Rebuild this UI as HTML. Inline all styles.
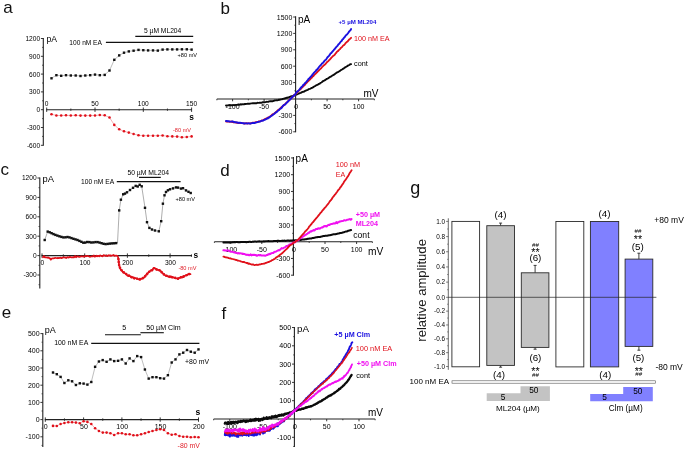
<!DOCTYPE html>
<html><head><meta charset="utf-8"><title>figure</title>
<style>html,body{margin:0;padding:0;background:#fff}svg{display:block}svg text{font-family:"Liberation Sans",Arial,sans-serif}</style>
</head><body>
<svg width="685" height="449" viewBox="0 0 685 449">
<rect width="685" height="449" fill="#fff"/>
<text x="3.2" y="13.4" font-size="17" text-anchor="start" fill="#111">a</text>
<line x1="43.30" y1="38.00" x2="43.30" y2="145.80" stroke="#222" stroke-width="1.1"/>
<line x1="40.90" y1="38.50" x2="43.30" y2="38.50" stroke="#222" stroke-width="0.9"/>
<text x="40.1" y="40.9" font-size="6.6" text-anchor="end" fill="#000">1200</text>
<line x1="40.90" y1="56.30" x2="43.30" y2="56.30" stroke="#222" stroke-width="0.9"/>
<text x="40.1" y="58.7" font-size="6.6" text-anchor="end" fill="#000">900</text>
<line x1="40.90" y1="74.10" x2="43.30" y2="74.10" stroke="#222" stroke-width="0.9"/>
<text x="40.1" y="76.5" font-size="6.6" text-anchor="end" fill="#000">600</text>
<line x1="40.90" y1="91.90" x2="43.30" y2="91.90" stroke="#222" stroke-width="0.9"/>
<text x="40.1" y="94.3" font-size="6.6" text-anchor="end" fill="#000">300</text>
<line x1="40.90" y1="109.70" x2="43.30" y2="109.70" stroke="#222" stroke-width="0.9"/>
<text x="40.1" y="112.1" font-size="6.6" text-anchor="end" fill="#000">0</text>
<line x1="40.90" y1="127.50" x2="43.30" y2="127.50" stroke="#222" stroke-width="0.9"/>
<text x="40.1" y="129.9" font-size="6.6" text-anchor="end" fill="#000">-300</text>
<line x1="40.90" y1="145.30" x2="43.30" y2="145.30" stroke="#222" stroke-width="0.9"/>
<text x="40.1" y="147.7" font-size="6.6" text-anchor="end" fill="#000">-600</text>
<line x1="42.00" y1="47.40" x2="43.30" y2="47.40" stroke="#222" stroke-width="0.7"/>
<line x1="42.00" y1="65.20" x2="43.30" y2="65.20" stroke="#222" stroke-width="0.7"/>
<line x1="42.00" y1="83.00" x2="43.30" y2="83.00" stroke="#222" stroke-width="0.7"/>
<line x1="42.00" y1="100.80" x2="43.30" y2="100.80" stroke="#222" stroke-width="0.7"/>
<line x1="42.00" y1="118.60" x2="43.30" y2="118.60" stroke="#222" stroke-width="0.7"/>
<line x1="42.00" y1="136.40" x2="43.30" y2="136.40" stroke="#222" stroke-width="0.7"/>
<text x="46.6" y="42.0" font-size="8.6" text-anchor="start" fill="#000">pA</text>
<line x1="46.20" y1="109.70" x2="192.00" y2="109.70" stroke="#222" stroke-width="1.1"/>
<line x1="46.70" y1="107.50" x2="46.70" y2="111.90" stroke="#222" stroke-width="0.9"/>
<text x="46.7" y="105.7" font-size="6.6" text-anchor="middle" fill="#000">0</text>
<line x1="95.00" y1="107.50" x2="95.00" y2="111.90" stroke="#222" stroke-width="0.9"/>
<text x="95.0" y="105.7" font-size="6.6" text-anchor="middle" fill="#000">50</text>
<line x1="143.30" y1="107.50" x2="143.30" y2="111.90" stroke="#222" stroke-width="0.9"/>
<text x="143.3" y="105.7" font-size="6.6" text-anchor="middle" fill="#000">100</text>
<line x1="191.60" y1="107.50" x2="191.60" y2="111.90" stroke="#222" stroke-width="0.9"/>
<text x="191.6" y="105.7" font-size="6.6" text-anchor="middle" fill="#000">150</text>
<line x1="70.85" y1="108.50" x2="70.85" y2="110.90" stroke="#222" stroke-width="0.8"/>
<line x1="119.15" y1="108.50" x2="119.15" y2="110.90" stroke="#222" stroke-width="0.8"/>
<line x1="167.45" y1="108.50" x2="167.45" y2="110.90" stroke="#222" stroke-width="0.8"/>
<text x="191.5" y="119.6" font-size="8.4" text-anchor="middle" fill="#000" font-weight="bold">s</text>
<text x="69.3" y="44.6" font-size="6.6" text-anchor="start" fill="#000">100 nM EA</text>
<line x1="105.90" y1="42.30" x2="193.20" y2="42.30" stroke="#111" stroke-width="1.2"/>
<line x1="135.30" y1="36.30" x2="193.20" y2="36.30" stroke="#111" stroke-width="1.2"/>
<text x="144.0" y="33.3" font-size="6.7" text-anchor="start" fill="#000">5 µM ML204</text>
<text x="177.6" y="57.2" font-size="5.6" text-anchor="start" fill="#000">+80 mV</text>
<text x="173.0" y="131.8" font-size="5.6" text-anchor="start" fill="#e0202a">-80 mV</text>
<polyline points="51.5,78.3 56.4,75.2 61.2,75.8 66.0,75.2 70.8,75.5 75.7,75.5 80.5,76.0 85.3,75.5 90.2,75.2 95.0,74.6 99.8,75.2 104.7,74.9 109.5,70.5 114.3,59.8 119.2,55.4 124.0,52.7 128.8,51.4 133.6,50.7 138.5,49.9 143.3,50.2 148.1,50.4 153.0,50.4 157.8,50.6 162.6,49.6 167.4,49.4 172.3,49.4 177.1,49.4 181.9,49.3 186.8,49.3 191.6,49.6" fill="none" stroke="#444" stroke-width="0.35" stroke-linejoin="round" stroke-linecap="round"/>
<polyline points="51.5,114.2 56.4,115.5 61.2,115.5 66.0,115.3 70.8,115.5 75.7,115.3 80.5,115.6 85.3,115.6 90.2,115.6 95.0,115.5 99.8,115.0 104.7,115.3 109.5,117.5 114.3,124.9 119.2,129.3 124.0,131.3 128.8,132.6 133.6,134.0 138.5,135.3 143.3,135.7 148.1,135.7 153.0,135.7 157.8,135.7 162.6,135.5 167.4,136.2 172.3,136.4 177.1,136.6 181.9,137.2 186.8,137.0 191.6,136.4" fill="none" stroke="#e0202a" stroke-width="0.35" stroke-linejoin="round" stroke-linecap="round"/>
<rect x="50.3" y="77.1" width="2.4" height="2.4" fill="#111"/>
<rect x="55.2" y="74.0" width="2.4" height="2.4" fill="#111"/>
<rect x="60.0" y="74.6" width="2.4" height="2.4" fill="#111"/>
<rect x="64.8" y="74.0" width="2.4" height="2.4" fill="#111"/>
<rect x="69.6" y="74.3" width="2.4" height="2.4" fill="#111"/>
<rect x="74.5" y="74.3" width="2.4" height="2.4" fill="#111"/>
<rect x="79.3" y="74.8" width="2.4" height="2.4" fill="#111"/>
<rect x="84.1" y="74.3" width="2.4" height="2.4" fill="#111"/>
<rect x="89.0" y="74.0" width="2.4" height="2.4" fill="#111"/>
<rect x="93.8" y="73.4" width="2.4" height="2.4" fill="#111"/>
<rect x="98.6" y="74.0" width="2.4" height="2.4" fill="#111"/>
<rect x="103.5" y="73.7" width="2.4" height="2.4" fill="#111"/>
<rect x="108.3" y="69.3" width="2.4" height="2.4" fill="#111"/>
<rect x="113.1" y="58.6" width="2.4" height="2.4" fill="#111"/>
<rect x="118.0" y="54.2" width="2.4" height="2.4" fill="#111"/>
<rect x="122.8" y="51.5" width="2.4" height="2.4" fill="#111"/>
<rect x="127.6" y="50.2" width="2.4" height="2.4" fill="#111"/>
<rect x="132.4" y="49.5" width="2.4" height="2.4" fill="#111"/>
<rect x="137.3" y="48.7" width="2.4" height="2.4" fill="#111"/>
<rect x="142.1" y="49.0" width="2.4" height="2.4" fill="#111"/>
<rect x="146.9" y="49.2" width="2.4" height="2.4" fill="#111"/>
<rect x="151.8" y="49.2" width="2.4" height="2.4" fill="#111"/>
<rect x="156.6" y="49.4" width="2.4" height="2.4" fill="#111"/>
<rect x="161.4" y="48.4" width="2.4" height="2.4" fill="#111"/>
<rect x="166.2" y="48.2" width="2.4" height="2.4" fill="#111"/>
<rect x="171.1" y="48.2" width="2.4" height="2.4" fill="#111"/>
<rect x="175.9" y="48.2" width="2.4" height="2.4" fill="#111"/>
<rect x="180.7" y="48.1" width="2.4" height="2.4" fill="#111"/>
<rect x="185.6" y="48.1" width="2.4" height="2.4" fill="#111"/>
<rect x="190.4" y="48.4" width="2.4" height="2.4" fill="#111"/>
<circle cx="51.5" cy="114.2" r="1.3" fill="#e0101a"/>
<circle cx="56.4" cy="115.5" r="1.3" fill="#e0101a"/>
<circle cx="61.2" cy="115.5" r="1.3" fill="#e0101a"/>
<circle cx="66.0" cy="115.3" r="1.3" fill="#e0101a"/>
<circle cx="70.8" cy="115.5" r="1.3" fill="#e0101a"/>
<circle cx="75.7" cy="115.3" r="1.3" fill="#e0101a"/>
<circle cx="80.5" cy="115.6" r="1.3" fill="#e0101a"/>
<circle cx="85.3" cy="115.6" r="1.3" fill="#e0101a"/>
<circle cx="90.2" cy="115.6" r="1.3" fill="#e0101a"/>
<circle cx="95.0" cy="115.5" r="1.3" fill="#e0101a"/>
<circle cx="99.8" cy="115.0" r="1.3" fill="#e0101a"/>
<circle cx="104.7" cy="115.3" r="1.3" fill="#e0101a"/>
<circle cx="109.5" cy="117.5" r="1.3" fill="#e0101a"/>
<circle cx="114.3" cy="124.9" r="1.3" fill="#e0101a"/>
<circle cx="119.2" cy="129.3" r="1.3" fill="#e0101a"/>
<circle cx="124.0" cy="131.3" r="1.3" fill="#e0101a"/>
<circle cx="128.8" cy="132.6" r="1.3" fill="#e0101a"/>
<circle cx="133.6" cy="134.0" r="1.3" fill="#e0101a"/>
<circle cx="138.5" cy="135.3" r="1.3" fill="#e0101a"/>
<circle cx="143.3" cy="135.7" r="1.3" fill="#e0101a"/>
<circle cx="148.1" cy="135.7" r="1.3" fill="#e0101a"/>
<circle cx="153.0" cy="135.7" r="1.3" fill="#e0101a"/>
<circle cx="157.8" cy="135.7" r="1.3" fill="#e0101a"/>
<circle cx="162.6" cy="135.5" r="1.3" fill="#e0101a"/>
<circle cx="167.4" cy="136.2" r="1.3" fill="#e0101a"/>
<circle cx="172.3" cy="136.4" r="1.3" fill="#e0101a"/>
<circle cx="177.1" cy="136.6" r="1.3" fill="#e0101a"/>
<circle cx="181.9" cy="137.2" r="1.3" fill="#e0101a"/>
<circle cx="186.8" cy="137.0" r="1.3" fill="#e0101a"/>
<circle cx="191.6" cy="136.4" r="1.3" fill="#e0101a"/>
<text x="0.6" y="174.9" font-size="17" text-anchor="start" fill="#111">c</text>
<line x1="39.80" y1="177.50" x2="39.80" y2="288.50" stroke="#222" stroke-width="1.1"/>
<line x1="37.40" y1="178.00" x2="39.80" y2="178.00" stroke="#222" stroke-width="0.9"/>
<text x="36.6" y="180.4" font-size="6.6" text-anchor="end" fill="#000">1200</text>
<line x1="37.40" y1="197.40" x2="39.80" y2="197.40" stroke="#222" stroke-width="0.9"/>
<text x="36.6" y="199.8" font-size="6.6" text-anchor="end" fill="#000">900</text>
<line x1="37.40" y1="216.80" x2="39.80" y2="216.80" stroke="#222" stroke-width="0.9"/>
<text x="36.6" y="219.2" font-size="6.6" text-anchor="end" fill="#000">600</text>
<line x1="37.40" y1="236.20" x2="39.80" y2="236.20" stroke="#222" stroke-width="0.9"/>
<text x="36.6" y="238.6" font-size="6.6" text-anchor="end" fill="#000">300</text>
<line x1="37.40" y1="255.60" x2="39.80" y2="255.60" stroke="#222" stroke-width="0.9"/>
<text x="36.6" y="258.0" font-size="6.6" text-anchor="end" fill="#000">0</text>
<line x1="37.40" y1="275.00" x2="39.80" y2="275.00" stroke="#222" stroke-width="0.9"/>
<text x="36.6" y="277.4" font-size="6.6" text-anchor="end" fill="#000">-300</text>
<line x1="38.50" y1="187.70" x2="39.80" y2="187.70" stroke="#222" stroke-width="0.7"/>
<line x1="38.50" y1="207.10" x2="39.80" y2="207.10" stroke="#222" stroke-width="0.7"/>
<line x1="38.50" y1="226.50" x2="39.80" y2="226.50" stroke="#222" stroke-width="0.7"/>
<line x1="38.50" y1="245.90" x2="39.80" y2="245.90" stroke="#222" stroke-width="0.7"/>
<line x1="38.50" y1="265.30" x2="39.80" y2="265.30" stroke="#222" stroke-width="0.7"/>
<line x1="38.50" y1="284.70" x2="39.80" y2="284.70" stroke="#222" stroke-width="0.7"/>
<text x="42.6" y="181.6" font-size="9.4" text-anchor="start" fill="#000">pA</text>
<line x1="41.50" y1="255.60" x2="192.00" y2="255.60" stroke="#222" stroke-width="1.1"/>
<line x1="42.00" y1="253.40" x2="42.00" y2="257.80" stroke="#222" stroke-width="0.9"/>
<text x="42.3" y="264.6" font-size="6.6" text-anchor="middle" fill="#000">0</text>
<line x1="84.70" y1="253.40" x2="84.70" y2="257.80" stroke="#222" stroke-width="0.9"/>
<text x="85.0" y="264.6" font-size="6.6" text-anchor="middle" fill="#000">100</text>
<line x1="127.40" y1="253.40" x2="127.40" y2="257.80" stroke="#222" stroke-width="0.9"/>
<text x="127.7" y="264.6" font-size="6.6" text-anchor="middle" fill="#000">200</text>
<line x1="170.10" y1="253.40" x2="170.10" y2="257.80" stroke="#222" stroke-width="0.9"/>
<text x="170.4" y="264.6" font-size="6.6" text-anchor="middle" fill="#000">300</text>
<line x1="63.35" y1="254.30" x2="63.35" y2="256.90" stroke="#222" stroke-width="0.8"/>
<line x1="106.05" y1="254.30" x2="106.05" y2="256.90" stroke="#222" stroke-width="0.8"/>
<line x1="148.75" y1="254.30" x2="148.75" y2="256.90" stroke="#222" stroke-width="0.8"/>
<line x1="191.45" y1="254.30" x2="191.45" y2="256.90" stroke="#222" stroke-width="0.8"/>
<text x="195.8" y="257.8" font-size="8.4" text-anchor="middle" fill="#000" font-weight="bold">s</text>
<text x="81.1" y="183.7" font-size="6.7" text-anchor="start" fill="#000">100 nM EA</text>
<line x1="116.80" y1="181.60" x2="180.60" y2="181.60" stroke="#111" stroke-width="1.2"/>
<line x1="139.00" y1="177.40" x2="160.80" y2="177.40" stroke="#111" stroke-width="1.2"/>
<text x="127.4" y="174.9" font-size="6.8" text-anchor="start" fill="#000">50 µM ML204</text>
<text x="175.5" y="201.3" font-size="5.6" text-anchor="start" fill="#000">+80 mV</text>
<text x="178.4" y="270.1" font-size="5.6" text-anchor="start" fill="#e0202a">-80 mV</text>
<polyline points="44.7,240.0 47.7,231.6 50.4,232.6 55.0,234.8 60.0,236.5 64.0,237.6 68.0,236.9 72.0,238.3 78.0,240.2 84.0,243.0 88.0,241.8 92.0,242.6 97.0,241.9 102.0,243.3 105.0,244.2 110.0,243.6 117.5,243.0 119.2,210.4 120.9,199.7 123.2,194.3 125.0,193.6 127.0,192.3 130.0,190.0 133.0,187.8 135.7,185.9 137.7,186.5 139.7,184.8 141.7,186.3 145.0,207.8 147.0,222.2 149.4,227.9 152.0,229.5 155.0,230.5 158.8,231.3 161.2,221.2 162.9,203.7 164.5,195.3 166.0,192.0 167.9,190.3 170.0,189.3 173.0,188.4 176.0,187.4 178.0,187.6 181.0,188.6 183.0,188.2 186.0,190.4 188.5,191.8 190.7,193.0" fill="none" stroke="#333" stroke-width="0.4" stroke-linejoin="round" stroke-linecap="round"/>
<rect x="43.5" y="238.8" width="2.4" height="2.4" fill="#111"/>
<rect x="46.5" y="230.4" width="2.4" height="2.4" fill="#111"/>
<rect x="48.5" y="231.1" width="2.4" height="2.4" fill="#111"/>
<rect x="50.4" y="232.0" width="2.4" height="2.4" fill="#111"/>
<rect x="52.3" y="232.9" width="2.4" height="2.4" fill="#111"/>
<rect x="54.2" y="233.7" width="2.4" height="2.4" fill="#111"/>
<rect x="56.2" y="234.4" width="2.4" height="2.4" fill="#111"/>
<rect x="58.2" y="235.1" width="2.4" height="2.4" fill="#111"/>
<rect x="60.2" y="235.7" width="2.4" height="2.4" fill="#111"/>
<rect x="62.2" y="236.2" width="2.4" height="2.4" fill="#111"/>
<rect x="64.3" y="236.1" width="2.4" height="2.4" fill="#111"/>
<rect x="66.3" y="235.8" width="2.4" height="2.4" fill="#111"/>
<rect x="68.3" y="236.2" width="2.4" height="2.4" fill="#111"/>
<rect x="70.3" y="236.9" width="2.4" height="2.4" fill="#111"/>
<rect x="72.3" y="237.6" width="2.4" height="2.4" fill="#111"/>
<rect x="74.3" y="238.2" width="2.4" height="2.4" fill="#111"/>
<rect x="76.3" y="238.8" width="2.4" height="2.4" fill="#111"/>
<rect x="78.2" y="239.7" width="2.4" height="2.4" fill="#111"/>
<rect x="80.2" y="240.6" width="2.4" height="2.4" fill="#111"/>
<rect x="82.1" y="241.5" width="2.4" height="2.4" fill="#111"/>
<rect x="84.0" y="241.4" width="2.4" height="2.4" fill="#111"/>
<rect x="86.0" y="240.8" width="2.4" height="2.4" fill="#111"/>
<rect x="88.1" y="240.9" width="2.4" height="2.4" fill="#111"/>
<rect x="90.1" y="241.3" width="2.4" height="2.4" fill="#111"/>
<rect x="92.2" y="241.2" width="2.4" height="2.4" fill="#111"/>
<rect x="94.3" y="240.9" width="2.4" height="2.4" fill="#111"/>
<rect x="96.4" y="240.9" width="2.4" height="2.4" fill="#111"/>
<rect x="98.4" y="241.4" width="2.4" height="2.4" fill="#111"/>
<rect x="100.4" y="242.0" width="2.4" height="2.4" fill="#111"/>
<rect x="102.4" y="242.6" width="2.4" height="2.4" fill="#111"/>
<rect x="104.4" y="242.9" width="2.4" height="2.4" fill="#111"/>
<rect x="106.5" y="242.7" width="2.4" height="2.4" fill="#111"/>
<rect x="108.6" y="242.4" width="2.4" height="2.4" fill="#111"/>
<rect x="110.7" y="242.2" width="2.4" height="2.4" fill="#111"/>
<rect x="112.8" y="242.1" width="2.4" height="2.4" fill="#111"/>
<rect x="114.9" y="241.9" width="2.4" height="2.4" fill="#111"/>
<rect x="118.0" y="209.2" width="2.4" height="2.4" fill="#111"/>
<rect x="119.7" y="198.5" width="2.4" height="2.4" fill="#111"/>
<rect x="122.0" y="193.1" width="2.4" height="2.4" fill="#111"/>
<rect x="123.8" y="192.4" width="2.4" height="2.4" fill="#111"/>
<rect x="125.8" y="191.1" width="2.4" height="2.4" fill="#111"/>
<rect x="128.8" y="188.8" width="2.4" height="2.4" fill="#111"/>
<rect x="131.8" y="186.6" width="2.4" height="2.4" fill="#111"/>
<rect x="134.5" y="184.7" width="2.4" height="2.4" fill="#111"/>
<rect x="136.5" y="185.3" width="2.4" height="2.4" fill="#111"/>
<rect x="138.5" y="183.6" width="2.4" height="2.4" fill="#111"/>
<rect x="140.5" y="185.1" width="2.4" height="2.4" fill="#111"/>
<rect x="143.8" y="206.6" width="2.4" height="2.4" fill="#111"/>
<rect x="145.8" y="221.0" width="2.4" height="2.4" fill="#111"/>
<rect x="148.2" y="226.7" width="2.4" height="2.4" fill="#111"/>
<rect x="150.8" y="228.3" width="2.4" height="2.4" fill="#111"/>
<rect x="153.8" y="229.3" width="2.4" height="2.4" fill="#111"/>
<rect x="157.6" y="230.1" width="2.4" height="2.4" fill="#111"/>
<rect x="160.0" y="220.0" width="2.4" height="2.4" fill="#111"/>
<rect x="161.7" y="202.5" width="2.4" height="2.4" fill="#111"/>
<rect x="163.3" y="194.1" width="2.4" height="2.4" fill="#111"/>
<rect x="164.8" y="190.8" width="2.4" height="2.4" fill="#111"/>
<rect x="166.7" y="189.1" width="2.4" height="2.4" fill="#111"/>
<rect x="168.8" y="188.1" width="2.4" height="2.4" fill="#111"/>
<rect x="171.8" y="187.2" width="2.4" height="2.4" fill="#111"/>
<rect x="174.8" y="186.2" width="2.4" height="2.4" fill="#111"/>
<rect x="176.8" y="186.4" width="2.4" height="2.4" fill="#111"/>
<rect x="179.8" y="187.4" width="2.4" height="2.4" fill="#111"/>
<rect x="181.8" y="187.0" width="2.4" height="2.4" fill="#111"/>
<rect x="184.8" y="189.2" width="2.4" height="2.4" fill="#111"/>
<rect x="187.3" y="190.6" width="2.4" height="2.4" fill="#111"/>
<rect x="189.5" y="191.8" width="2.4" height="2.4" fill="#111"/>
<polyline points="43.0,257.3 43.9,256.0 44.7,257.3 45.6,257.3 46.4,257.5 47.3,257.8 48.2,257.4 49.1,258.2 49.9,258.2 50.8,259.7 51.7,258.6 52.6,258.3 53.5,258.3 54.4,258.1 55.3,257.9 56.2,258.0 57.1,258.3 58.0,257.9 58.9,258.2 59.8,257.8 60.7,257.7 61.6,258.2 62.5,257.8 63.4,257.4 64.3,257.4 65.2,257.6 66.1,258.1 67.0,257.3 67.9,257.2 68.8,257.6 69.7,256.9 70.6,257.1 71.5,257.5 72.4,257.3 73.3,257.1 74.2,257.3 75.1,256.0 76.0,257.3 76.9,256.6 77.8,256.3 78.7,256.9 79.6,257.0 80.5,256.5 81.3,256.2 82.2,256.5 83.1,256.4 84.0,256.8 84.9,256.3 85.8,255.9 86.7,256.3 87.5,256.0 88.4,256.0 89.3,256.7 90.2,256.8 91.1,256.5 92.0,256.2 92.9,256.5 93.8,255.5 94.7,256.6 95.6,256.5 96.5,255.7 97.4,256.3 98.3,255.8 99.2,256.4 100.1,255.4 101.0,255.7 101.9,256.2 102.8,256.3 103.7,255.1 104.6,255.6 105.5,255.8 106.4,255.5 107.3,256.2 108.2,255.2 109.1,255.7 110.0,255.2 110.9,256.0 111.8,255.5 112.7,255.4 113.6,254.9 114.5,256.0 115.4,255.7 116.3,255.7 117.2,255.8 117.6,256.1 117.9,256.6 118.1,257.4 118.3,258.3 118.5,259.9 118.6,259.8 118.7,261.0 118.8,262.0 118.9,263.1 119.0,264.1 119.1,264.4 119.2,265.1 119.5,266.6 119.8,267.8 120.2,268.5 120.5,269.1 121.1,269.6 121.7,270.5 122.2,271.1 122.8,272.1 123.6,272.0 124.3,272.9 125.1,273.3 125.8,274.0 126.6,274.4 127.3,275.7 128.1,275.8 128.9,276.2 129.6,275.5 130.4,276.5 131.2,276.9 132.0,277.6 132.9,276.9 133.7,278.4 134.6,278.6 135.5,278.0 136.3,278.3 137.2,278.6 138.1,279.1 139.0,279.4 139.9,279.9 140.7,278.9 141.6,279.0 142.4,278.4 143.2,278.4 143.9,277.6 144.6,277.2 145.2,275.7 145.8,275.3 146.4,274.4 147.0,274.6 147.6,273.6 148.2,272.7 148.9,272.0 149.5,271.7 150.3,270.8 151.1,270.3 151.8,270.3 152.5,270.4 153.1,268.8 153.8,268.0 154.6,268.1 155.4,268.5 156.2,269.4 157.1,269.8 157.9,269.8 158.8,270.1 159.6,270.4 160.3,271.0 160.9,271.0 161.6,272.0 162.2,272.9 162.9,273.2 163.5,273.9 164.2,274.4 164.9,275.1 165.8,275.8 166.6,275.7 167.4,276.1 168.3,276.7 169.2,276.8 170.1,277.4 170.9,276.2 171.8,277.4 172.7,277.1 173.6,277.5 174.5,278.0 175.3,278.3 176.2,278.5 177.1,278.4 177.9,279.1 178.8,278.1 179.6,277.8 180.4,277.8 181.2,276.9 182.1,277.6 182.9,276.9 183.8,277.1 184.6,276.0 185.5,275.5 186.3,275.3 187.1,275.1 187.9,274.2 188.7,274.3 189.6,273.9 190.5,274.2" fill="none" stroke="#e0101a" stroke-width="1.7" stroke-linejoin="round" stroke-linecap="round"/>
<circle cx="118.4" cy="259.0" r="1.3" fill="#e0101a"/>
<circle cx="118.7" cy="262.0" r="1.3" fill="#e0101a"/>
<circle cx="119.1" cy="265.0" r="1.3" fill="#e0101a"/>
<circle cx="120.0" cy="267.8" r="1.3" fill="#e0101a"/>
<circle cx="121.6" cy="270.3" r="1.3" fill="#e0101a"/>
<circle cx="123.7" cy="272.4" r="1.3" fill="#e0101a"/>
<circle cx="126.2" cy="274.1" r="1.3" fill="#e0101a"/>
<circle cx="128.7" cy="275.6" r="1.3" fill="#e0101a"/>
<circle cx="131.3" cy="277.1" r="1.3" fill="#e0101a"/>
<circle cx="134.2" cy="278.1" r="1.3" fill="#e0101a"/>
<circle cx="137.1" cy="278.8" r="1.3" fill="#e0101a"/>
<circle cx="140.0" cy="279.1" r="1.3" fill="#e0101a"/>
<circle cx="142.8" cy="278.1" r="1.3" fill="#e0101a"/>
<circle cx="145.1" cy="276.2" r="1.3" fill="#e0101a"/>
<circle cx="147.1" cy="273.9" r="1.3" fill="#e0101a"/>
<circle cx="149.2" cy="271.8" r="1.3" fill="#e0101a"/>
<circle cx="151.7" cy="270.2" r="1.3" fill="#e0101a"/>
<circle cx="153.9" cy="268.2" r="1.3" fill="#e0101a"/>
<circle cx="156.6" cy="269.4" r="1.3" fill="#e0101a"/>
<circle cx="159.5" cy="270.2" r="1.3" fill="#e0101a"/>
<circle cx="161.7" cy="272.3" r="1.3" fill="#e0101a"/>
<circle cx="163.9" cy="274.4" r="1.3" fill="#e0101a"/>
<circle cx="166.5" cy="275.8" r="1.3" fill="#e0101a"/>
<circle cx="169.3" cy="276.6" r="1.3" fill="#e0101a"/>
<circle cx="172.3" cy="277.2" r="1.3" fill="#e0101a"/>
<circle cx="175.2" cy="277.8" r="1.3" fill="#e0101a"/>
<circle cx="178.1" cy="278.6" r="1.3" fill="#e0101a"/>
<circle cx="180.8" cy="277.3" r="1.3" fill="#e0101a"/>
<circle cx="183.6" cy="276.3" r="1.3" fill="#e0101a"/>
<circle cx="186.4" cy="275.2" r="1.3" fill="#e0101a"/>
<circle cx="189.2" cy="274.1" r="1.3" fill="#e0101a"/>
<text x="1.8" y="318.1" font-size="17" text-anchor="start" fill="#111">e</text>
<line x1="42.80" y1="333.10" x2="42.80" y2="447.00" stroke="#222" stroke-width="1.1"/>
<line x1="40.40" y1="333.60" x2="42.80" y2="333.60" stroke="#222" stroke-width="0.9"/>
<text x="39.6" y="336.1" font-size="7" text-anchor="end" fill="#000">500</text>
<line x1="40.40" y1="350.80" x2="42.80" y2="350.80" stroke="#222" stroke-width="0.9"/>
<text x="39.6" y="353.3" font-size="7" text-anchor="end" fill="#000">400</text>
<line x1="40.40" y1="368.00" x2="42.80" y2="368.00" stroke="#222" stroke-width="0.9"/>
<text x="39.6" y="370.5" font-size="7" text-anchor="end" fill="#000">300</text>
<line x1="40.40" y1="385.20" x2="42.80" y2="385.20" stroke="#222" stroke-width="0.9"/>
<text x="39.6" y="387.7" font-size="7" text-anchor="end" fill="#000">200</text>
<line x1="40.40" y1="402.40" x2="42.80" y2="402.40" stroke="#222" stroke-width="0.9"/>
<text x="39.6" y="404.9" font-size="7" text-anchor="end" fill="#000">100</text>
<line x1="40.40" y1="419.60" x2="42.80" y2="419.60" stroke="#222" stroke-width="0.9"/>
<text x="39.6" y="422.1" font-size="7" text-anchor="end" fill="#000">0</text>
<line x1="40.40" y1="436.80" x2="42.80" y2="436.80" stroke="#222" stroke-width="0.9"/>
<text x="39.6" y="439.3" font-size="7" text-anchor="end" fill="#000">-100</text>
<line x1="41.50" y1="342.20" x2="42.80" y2="342.20" stroke="#222" stroke-width="0.7"/>
<line x1="41.50" y1="359.40" x2="42.80" y2="359.40" stroke="#222" stroke-width="0.7"/>
<line x1="41.50" y1="376.60" x2="42.80" y2="376.60" stroke="#222" stroke-width="0.7"/>
<line x1="41.50" y1="393.80" x2="42.80" y2="393.80" stroke="#222" stroke-width="0.7"/>
<line x1="41.50" y1="411.00" x2="42.80" y2="411.00" stroke="#222" stroke-width="0.7"/>
<line x1="41.50" y1="428.20" x2="42.80" y2="428.20" stroke="#222" stroke-width="0.7"/>
<line x1="41.50" y1="445.40" x2="42.80" y2="445.40" stroke="#222" stroke-width="0.7"/>
<text x="44.8" y="332.8" font-size="9" text-anchor="start" fill="#000">pA</text>
<line x1="44.80" y1="419.60" x2="199.00" y2="419.60" stroke="#222" stroke-width="1.1"/>
<line x1="45.30" y1="417.40" x2="45.30" y2="421.80" stroke="#222" stroke-width="0.9"/>
<text x="45.6" y="429.0" font-size="7" text-anchor="middle" fill="#000">0</text>
<line x1="83.60" y1="417.40" x2="83.60" y2="421.80" stroke="#222" stroke-width="0.9"/>
<text x="83.9" y="429.0" font-size="7" text-anchor="middle" fill="#000">50</text>
<line x1="121.90" y1="417.40" x2="121.90" y2="421.80" stroke="#222" stroke-width="0.9"/>
<text x="122.2" y="429.0" font-size="7" text-anchor="middle" fill="#000">100</text>
<line x1="160.20" y1="417.40" x2="160.20" y2="421.80" stroke="#222" stroke-width="0.9"/>
<text x="160.5" y="429.0" font-size="7" text-anchor="middle" fill="#000">150</text>
<line x1="198.50" y1="417.40" x2="198.50" y2="421.80" stroke="#222" stroke-width="0.9"/>
<text x="198.8" y="429.0" font-size="7" text-anchor="middle" fill="#000">200</text>
<line x1="64.45" y1="418.30" x2="64.45" y2="420.90" stroke="#222" stroke-width="0.8"/>
<line x1="102.75" y1="418.30" x2="102.75" y2="420.90" stroke="#222" stroke-width="0.8"/>
<line x1="141.05" y1="418.30" x2="141.05" y2="420.90" stroke="#222" stroke-width="0.8"/>
<line x1="179.35" y1="418.30" x2="179.35" y2="420.90" stroke="#222" stroke-width="0.8"/>
<text x="197.9" y="415.0" font-size="8.6" text-anchor="middle" fill="#000" font-weight="bold">s</text>
<text x="54.2" y="345.4" font-size="6.9" text-anchor="start" fill="#000">100 nM EA</text>
<line x1="91.20" y1="343.30" x2="199.40" y2="343.30" stroke="#111" stroke-width="1.2"/>
<line x1="105.00" y1="334.70" x2="140.80" y2="334.70" stroke="#111" stroke-width="1.1"/>
<line x1="140.40" y1="332.70" x2="163.80" y2="332.70" stroke="#111" stroke-width="1.1"/>
<text x="124.3" y="330.3" font-size="7.1" text-anchor="middle" fill="#000">5</text>
<text x="146.2" y="330.3" font-size="7.1" text-anchor="start" fill="#000">50 µM Clm</text>
<text x="185.1" y="363.9" font-size="6.9" text-anchor="start" fill="#000">+80 mV</text>
<text x="177.6" y="448.0" font-size="6.9" text-anchor="start" fill="#e0202a">-80 mV</text>
<polyline points="53.0,372.5 56.8,374.2 60.6,376.9 64.4,383.0 68.3,380.3 72.1,381.3 75.9,385.0 79.8,383.3 83.6,383.6 87.4,384.6 91.3,382.0 95.1,366.8 98.9,361.5 102.8,360.1 106.6,361.8 110.4,359.4 114.2,361.1 118.1,360.8 121.9,359.4 125.7,363.5 129.6,358.4 133.4,361.1 137.2,356.1 141.1,357.1 144.9,369.5 148.7,378.6 152.5,377.2 156.4,377.2 160.2,378.2 164.0,378.6 167.9,375.2 171.7,362.5 175.5,359.4 179.4,354.4 183.2,352.7 187.0,350.0 190.8,351.7 194.7,352.7 198.5,349.4" fill="none" stroke="#444" stroke-width="0.35" stroke-linejoin="round" stroke-linecap="round"/>
<polyline points="53.0,425.9 56.8,426.0 60.6,424.0 64.4,423.0 68.3,422.2 72.1,422.2 75.9,422.6 79.8,423.2 83.6,421.2 87.4,421.9 91.3,424.0 95.1,428.3 98.9,431.0 102.8,432.6 106.6,432.6 110.4,433.3 114.2,435.0 118.1,433.3 121.9,433.3 125.7,434.3 129.6,434.3 133.4,435.3 137.2,435.3 141.1,434.3 144.9,433.3 148.7,432.0 152.5,431.0 156.4,430.0 160.2,429.3 164.0,430.0 167.9,433.3 171.7,434.7 175.5,434.3 179.4,436.0 183.2,436.7 187.0,436.7 190.8,437.3 194.7,437.0 198.5,437.3" fill="none" stroke="#e0202a" stroke-width="0.35" stroke-linejoin="round" stroke-linecap="round"/>
<rect x="51.8" y="371.3" width="2.4" height="2.4" fill="#111"/>
<rect x="55.6" y="373.0" width="2.4" height="2.4" fill="#111"/>
<rect x="59.4" y="375.7" width="2.4" height="2.4" fill="#111"/>
<rect x="63.2" y="381.8" width="2.4" height="2.4" fill="#111"/>
<rect x="67.1" y="379.1" width="2.4" height="2.4" fill="#111"/>
<rect x="70.9" y="380.1" width="2.4" height="2.4" fill="#111"/>
<rect x="74.7" y="383.8" width="2.4" height="2.4" fill="#111"/>
<rect x="78.6" y="382.1" width="2.4" height="2.4" fill="#111"/>
<rect x="82.4" y="382.4" width="2.4" height="2.4" fill="#111"/>
<rect x="86.2" y="383.4" width="2.4" height="2.4" fill="#111"/>
<rect x="90.1" y="380.8" width="2.4" height="2.4" fill="#111"/>
<rect x="93.9" y="365.6" width="2.4" height="2.4" fill="#111"/>
<rect x="97.7" y="360.3" width="2.4" height="2.4" fill="#111"/>
<rect x="101.5" y="358.9" width="2.4" height="2.4" fill="#111"/>
<rect x="105.4" y="360.6" width="2.4" height="2.4" fill="#111"/>
<rect x="109.2" y="358.2" width="2.4" height="2.4" fill="#111"/>
<rect x="113.0" y="359.9" width="2.4" height="2.4" fill="#111"/>
<rect x="116.9" y="359.6" width="2.4" height="2.4" fill="#111"/>
<rect x="120.7" y="358.2" width="2.4" height="2.4" fill="#111"/>
<rect x="124.5" y="362.3" width="2.4" height="2.4" fill="#111"/>
<rect x="128.4" y="357.2" width="2.4" height="2.4" fill="#111"/>
<rect x="132.2" y="359.9" width="2.4" height="2.4" fill="#111"/>
<rect x="136.0" y="354.9" width="2.4" height="2.4" fill="#111"/>
<rect x="139.9" y="355.9" width="2.4" height="2.4" fill="#111"/>
<rect x="143.7" y="368.3" width="2.4" height="2.4" fill="#111"/>
<rect x="147.5" y="377.4" width="2.4" height="2.4" fill="#111"/>
<rect x="151.3" y="376.0" width="2.4" height="2.4" fill="#111"/>
<rect x="155.2" y="376.0" width="2.4" height="2.4" fill="#111"/>
<rect x="159.0" y="377.0" width="2.4" height="2.4" fill="#111"/>
<rect x="162.8" y="377.4" width="2.4" height="2.4" fill="#111"/>
<rect x="166.7" y="374.0" width="2.4" height="2.4" fill="#111"/>
<rect x="170.5" y="361.3" width="2.4" height="2.4" fill="#111"/>
<rect x="174.3" y="358.2" width="2.4" height="2.4" fill="#111"/>
<rect x="178.2" y="353.2" width="2.4" height="2.4" fill="#111"/>
<rect x="182.0" y="351.5" width="2.4" height="2.4" fill="#111"/>
<rect x="185.8" y="348.8" width="2.4" height="2.4" fill="#111"/>
<rect x="189.6" y="350.5" width="2.4" height="2.4" fill="#111"/>
<rect x="193.5" y="351.5" width="2.4" height="2.4" fill="#111"/>
<rect x="197.3" y="348.2" width="2.4" height="2.4" fill="#111"/>
<circle cx="53.0" cy="425.9" r="1.3" fill="#e0101a"/>
<circle cx="56.8" cy="426.0" r="1.3" fill="#e0101a"/>
<circle cx="60.6" cy="424.0" r="1.3" fill="#e0101a"/>
<circle cx="64.4" cy="423.0" r="1.3" fill="#e0101a"/>
<circle cx="68.3" cy="422.2" r="1.3" fill="#e0101a"/>
<circle cx="72.1" cy="422.2" r="1.3" fill="#e0101a"/>
<circle cx="75.9" cy="422.6" r="1.3" fill="#e0101a"/>
<circle cx="79.8" cy="423.2" r="1.3" fill="#e0101a"/>
<circle cx="83.6" cy="421.2" r="1.3" fill="#e0101a"/>
<circle cx="87.4" cy="421.9" r="1.3" fill="#e0101a"/>
<circle cx="91.3" cy="424.0" r="1.3" fill="#e0101a"/>
<circle cx="95.1" cy="428.3" r="1.3" fill="#e0101a"/>
<circle cx="98.9" cy="431.0" r="1.3" fill="#e0101a"/>
<circle cx="102.8" cy="432.6" r="1.3" fill="#e0101a"/>
<circle cx="106.6" cy="432.6" r="1.3" fill="#e0101a"/>
<circle cx="110.4" cy="433.3" r="1.3" fill="#e0101a"/>
<circle cx="114.2" cy="435.0" r="1.3" fill="#e0101a"/>
<circle cx="118.1" cy="433.3" r="1.3" fill="#e0101a"/>
<circle cx="121.9" cy="433.3" r="1.3" fill="#e0101a"/>
<circle cx="125.7" cy="434.3" r="1.3" fill="#e0101a"/>
<circle cx="129.6" cy="434.3" r="1.3" fill="#e0101a"/>
<circle cx="133.4" cy="435.3" r="1.3" fill="#e0101a"/>
<circle cx="137.2" cy="435.3" r="1.3" fill="#e0101a"/>
<circle cx="141.1" cy="434.3" r="1.3" fill="#e0101a"/>
<circle cx="144.9" cy="433.3" r="1.3" fill="#e0101a"/>
<circle cx="148.7" cy="432.0" r="1.3" fill="#e0101a"/>
<circle cx="152.5" cy="431.0" r="1.3" fill="#e0101a"/>
<circle cx="156.4" cy="430.0" r="1.3" fill="#e0101a"/>
<circle cx="160.2" cy="429.3" r="1.3" fill="#e0101a"/>
<circle cx="164.0" cy="430.0" r="1.3" fill="#e0101a"/>
<circle cx="167.9" cy="433.3" r="1.3" fill="#e0101a"/>
<circle cx="171.7" cy="434.7" r="1.3" fill="#e0101a"/>
<circle cx="175.5" cy="434.3" r="1.3" fill="#e0101a"/>
<circle cx="179.4" cy="436.0" r="1.3" fill="#e0101a"/>
<circle cx="183.2" cy="436.7" r="1.3" fill="#e0101a"/>
<circle cx="187.0" cy="436.7" r="1.3" fill="#e0101a"/>
<circle cx="190.8" cy="437.3" r="1.3" fill="#e0101a"/>
<circle cx="194.7" cy="437.0" r="1.3" fill="#e0101a"/>
<circle cx="198.5" cy="437.3" r="1.3" fill="#e0101a"/>
<text x="220.6" y="13.5" font-size="17" text-anchor="start" fill="#111">b</text>
<line x1="295.60" y1="16.30" x2="295.60" y2="132.20" stroke="#222" stroke-width="1.1"/>
<line x1="293.20" y1="17.00" x2="295.60" y2="17.00" stroke="#222" stroke-width="0.9"/>
<text x="292.4" y="19.5" font-size="7" text-anchor="end" fill="#000">1500</text>
<line x1="293.20" y1="33.40" x2="295.60" y2="33.40" stroke="#222" stroke-width="0.9"/>
<text x="292.4" y="35.9" font-size="7" text-anchor="end" fill="#000">1200</text>
<line x1="293.20" y1="49.80" x2="295.60" y2="49.80" stroke="#222" stroke-width="0.9"/>
<text x="292.4" y="52.3" font-size="7" text-anchor="end" fill="#000">900</text>
<line x1="293.20" y1="66.20" x2="295.60" y2="66.20" stroke="#222" stroke-width="0.9"/>
<text x="292.4" y="68.7" font-size="7" text-anchor="end" fill="#000">600</text>
<line x1="293.20" y1="82.60" x2="295.60" y2="82.60" stroke="#222" stroke-width="0.9"/>
<text x="292.4" y="85.1" font-size="7" text-anchor="end" fill="#000">300</text>
<line x1="293.20" y1="115.40" x2="295.60" y2="115.40" stroke="#222" stroke-width="0.9"/>
<text x="292.4" y="117.9" font-size="7" text-anchor="end" fill="#000">-300</text>
<line x1="293.20" y1="131.80" x2="295.60" y2="131.80" stroke="#222" stroke-width="0.9"/>
<text x="292.4" y="134.3" font-size="7" text-anchor="end" fill="#000">-600</text>
<line x1="294.30" y1="25.20" x2="295.60" y2="25.20" stroke="#222" stroke-width="0.7"/>
<line x1="294.30" y1="41.60" x2="295.60" y2="41.60" stroke="#222" stroke-width="0.7"/>
<line x1="294.30" y1="58.00" x2="295.60" y2="58.00" stroke="#222" stroke-width="0.7"/>
<line x1="294.30" y1="74.40" x2="295.60" y2="74.40" stroke="#222" stroke-width="0.7"/>
<line x1="294.30" y1="90.80" x2="295.60" y2="90.80" stroke="#222" stroke-width="0.7"/>
<line x1="294.30" y1="107.20" x2="295.60" y2="107.20" stroke="#222" stroke-width="0.7"/>
<line x1="294.30" y1="123.60" x2="295.60" y2="123.60" stroke="#222" stroke-width="0.7"/>
<line x1="216.85" y1="99.00" x2="374.35" y2="99.00" stroke="#222" stroke-width="1.1"/>
<line x1="232.60" y1="99.00" x2="232.60" y2="101.30" stroke="#222" stroke-width="0.9"/>
<text x="232.6" y="108.7" font-size="7" text-anchor="middle" fill="#000">-100</text>
<line x1="264.10" y1="99.00" x2="264.10" y2="101.30" stroke="#222" stroke-width="0.9"/>
<text x="264.1" y="108.7" font-size="7" text-anchor="middle" fill="#000">-50</text>
<text x="296.2" y="108.7" font-size="7" text-anchor="middle" fill="#000">0</text>
<line x1="327.10" y1="99.00" x2="327.10" y2="101.30" stroke="#222" stroke-width="0.9"/>
<text x="327.1" y="108.7" font-size="7" text-anchor="middle" fill="#000">50</text>
<line x1="358.60" y1="99.00" x2="358.60" y2="101.30" stroke="#222" stroke-width="0.9"/>
<text x="358.6" y="108.7" font-size="7" text-anchor="middle" fill="#000">100</text>
<line x1="216.85" y1="99.00" x2="216.85" y2="100.30" stroke="#222" stroke-width="0.8"/>
<line x1="248.35" y1="99.00" x2="248.35" y2="100.30" stroke="#222" stroke-width="0.8"/>
<line x1="279.85" y1="99.00" x2="279.85" y2="100.30" stroke="#222" stroke-width="0.8"/>
<line x1="311.35" y1="99.00" x2="311.35" y2="100.30" stroke="#222" stroke-width="0.8"/>
<line x1="342.85" y1="99.00" x2="342.85" y2="100.30" stroke="#222" stroke-width="0.8"/>
<line x1="374.35" y1="99.00" x2="374.35" y2="100.30" stroke="#222" stroke-width="0.8"/>
<text x="298.0" y="22.8" font-size="10" text-anchor="start" fill="#000">pA</text>
<text x="363.4" y="96.8" font-size="10" text-anchor="start" fill="#000">mV</text>
<polyline points="226.0,105.5 226.9,105.7 227.8,105.4 228.7,105.3 229.6,105.3 230.5,105.2 231.4,105.3 232.3,105.3 233.2,105.1 234.1,105.1 235.0,105.2 235.9,104.9 236.8,104.9 237.7,104.7 238.6,104.5 239.5,104.7 240.4,104.3 241.3,104.5 242.2,104.3 243.1,104.4 244.0,104.2 244.9,104.0 245.8,104.0 246.7,103.9 247.6,103.8 248.5,103.8 249.4,103.7 250.3,103.6 251.2,103.4 252.1,103.4 253.0,103.1 253.9,103.3 254.8,103.1 255.7,103.3 256.6,103.2 257.5,102.8 258.4,102.9 259.3,102.8 260.2,102.6 261.1,102.7 262.0,102.5 262.9,102.2 263.8,102.3 264.7,102.2 265.6,102.1 266.5,101.8 267.4,101.9 268.3,101.8 269.2,101.4 270.1,101.3 271.0,101.3 271.9,101.1 272.8,101.2 273.7,100.8 274.6,100.5 275.5,100.4 276.4,100.3 277.3,100.4 278.2,100.0 279.1,99.8 280.0,99.7 280.9,99.4 281.8,99.4 282.7,98.9 283.6,98.8 284.5,98.5 285.4,98.3 286.3,97.8 287.2,97.9 288.1,97.4 289.0,97.2 289.9,96.8 290.8,96.5 291.7,96.3 292.6,96.1 293.5,95.7 294.4,95.5 295.3,95.1 296.2,94.6 297.1,94.4 298.0,94.0 298.9,93.5 299.8,93.2 300.7,92.9 301.6,92.4 302.5,91.9 303.4,91.7 304.3,91.5 305.2,90.8 306.1,90.5 307.0,90.1 307.9,89.8 308.8,89.1 309.7,88.9 310.6,88.6 311.5,87.9 312.4,87.7 313.3,87.1 314.2,86.5 315.1,86.1 316.0,85.4 316.9,85.0 317.8,84.7 318.7,83.9 319.6,83.7 320.5,82.9 321.4,82.5 322.3,81.8 323.2,81.0 324.1,80.7 325.0,80.2 325.9,79.5 326.8,78.9 327.7,78.6 328.6,77.9 329.5,77.2 330.4,76.8 331.3,76.4 332.2,75.6 333.1,75.2 334.0,74.7 334.9,74.0 335.8,73.3 336.7,72.7 337.6,72.2 338.5,71.8 339.4,71.2 340.3,70.6 341.2,69.9 342.1,69.5 343.0,68.8 343.9,68.3 344.8,67.6 345.7,67.0 346.6,66.6 347.5,65.9 348.4,65.4 349.3,65.0 350.2,64.3 351.1,64.1" fill="none" stroke="#0a0a0a" stroke-width="1.9" stroke-linejoin="round" stroke-linecap="round"/>
<polyline points="226.0,121.5 226.8,121.4 227.6,121.7 228.4,121.7 229.1,121.6 229.9,121.9 230.7,121.7 231.5,121.5 232.3,122.2 233.1,122.0 233.9,122.5 234.7,122.3 235.4,122.3 236.2,122.8 237.0,122.5 237.8,122.8 238.6,123.1 239.4,123.0 240.2,123.0 240.9,123.1 241.7,123.2 242.5,123.1 243.3,123.3 244.1,123.4 244.9,123.7 245.7,123.3 246.5,123.2 247.2,123.5 248.0,123.3 248.8,123.4 249.6,123.4 250.4,123.5 251.2,123.1 252.0,123.1 252.8,122.6 253.5,122.7 254.3,122.9 255.1,122.4 255.9,122.2 256.7,122.0 257.5,122.0 258.3,121.8 259.0,121.3 259.8,121.3 260.6,121.0 261.4,120.8 262.2,120.3 263.0,120.3 263.8,119.8 264.6,119.3 265.3,118.9 266.1,118.6 266.9,118.3 267.7,117.7 268.5,117.4 269.3,116.9 270.1,116.5 270.8,115.9 271.6,115.2 272.4,114.4 273.2,114.2 274.0,113.7 274.8,113.0 275.6,112.4 276.4,111.6 277.1,111.0 277.9,110.2 278.7,109.9 279.5,109.1 280.3,108.3 281.1,107.5 281.9,106.9 282.6,106.5 283.4,105.6 284.2,104.7 285.0,104.3 285.8,103.5 286.6,102.7 287.4,101.9 288.2,101.2 288.9,100.4 289.7,99.7 290.5,98.7 291.3,98.2 292.1,97.3 292.9,96.8 293.7,95.4 294.5,95.1 295.2,94.4 296.0,93.4 296.8,92.8 297.6,92.0 298.4,91.3 299.2,90.3 300.0,89.6 300.7,89.0 301.5,88.3 302.3,87.3 303.1,86.5 303.9,85.7 304.7,85.1 305.5,84.0 306.3,83.1 307.0,82.5 307.8,81.5 308.6,80.8 309.4,80.1 310.2,79.4 311.0,78.3 311.8,77.8 312.5,76.6 313.3,76.2 314.1,75.1 314.9,74.3 315.7,73.8 316.5,72.8 317.3,72.0 318.1,71.2 318.8,70.5 319.6,69.7 320.4,68.9 321.2,68.2 322.0,67.2 322.8,66.4 323.6,65.6 324.3,65.1 325.1,64.3 325.9,63.5 326.7,62.5 327.5,61.7 328.3,61.1 329.1,60.1 329.9,59.5 330.6,58.7 331.4,57.6 332.2,56.9 333.0,56.1 333.8,55.6 334.6,54.9 335.4,53.7 336.2,52.9 336.9,51.8 337.7,51.3 338.5,50.5 339.3,49.6 340.1,49.0 340.9,47.9 341.7,47.3 342.4,46.5 343.2,45.5 344.0,45.1 344.8,44.3 345.6,43.1 346.4,42.3 347.2,41.8 348.0,41.0 348.7,40.0 349.5,39.3 350.3,38.6 351.1,37.8" fill="none" stroke="#e0101a" stroke-width="1.8" stroke-linejoin="round" stroke-linecap="round"/>
<polyline points="226.0,121.0 226.8,121.0 227.6,121.3 228.4,121.3 229.1,121.3 229.9,121.5 230.7,121.6 231.5,121.6 232.3,121.3 233.1,121.8 233.9,121.8 234.7,122.2 235.4,122.1 236.2,122.3 237.0,122.4 237.8,122.8 238.6,122.6 239.4,122.7 240.2,122.9 240.9,122.8 241.7,123.0 242.5,123.1 243.3,123.2 244.1,123.6 244.9,123.3 245.7,123.4 246.5,123.4 247.2,123.6 248.0,123.3 248.8,123.4 249.6,123.5 250.4,123.5 251.2,123.3 252.0,123.1 252.8,122.9 253.5,123.0 254.3,123.1 255.1,122.7 255.9,122.6 256.7,122.4 257.5,122.0 258.3,121.9 259.0,121.7 259.8,121.6 260.6,121.3 261.4,120.8 262.2,120.9 263.0,120.7 263.8,120.0 264.6,119.8 265.3,119.5 266.1,119.2 266.9,118.4 267.7,118.5 268.5,117.6 269.3,117.5 270.1,116.8 270.8,116.2 271.6,115.7 272.4,115.4 273.2,114.5 274.0,114.0 274.8,113.4 275.6,112.5 276.4,112.4 277.1,111.6 277.9,110.8 278.7,110.3 279.5,109.3 280.3,108.7 281.1,108.4 281.9,107.5 282.6,106.2 283.4,105.3 284.2,105.0 285.0,104.6 285.8,103.6 286.6,102.8 287.4,102.2 288.2,101.2 288.9,100.6 289.7,99.9 290.5,99.0 291.3,98.2 292.1,97.2 292.9,96.6 293.7,95.6 294.5,95.1 295.2,94.5 296.0,93.0 296.8,91.9 297.6,91.4 298.4,90.6 299.2,89.9 300.0,89.0 300.7,87.8 301.5,87.0 302.3,86.4 303.1,85.1 303.9,84.6 304.7,83.5 305.5,82.8 306.3,81.9 307.0,81.0 307.8,80.1 308.6,78.9 309.4,78.2 310.2,77.3 311.0,76.4 311.8,75.7 312.5,74.5 313.3,73.6 314.1,72.6 314.9,71.8 315.7,71.1 316.5,69.9 317.3,69.4 318.1,68.3 318.8,67.3 319.6,66.2 320.4,65.6 321.2,64.7 322.0,63.4 322.8,63.0 323.6,62.2 324.3,61.1 325.1,60.2 325.9,59.7 326.7,58.5 327.5,57.2 328.3,56.5 329.1,55.6 329.9,54.6 330.6,53.3 331.4,53.0 332.2,51.8 333.0,51.0 333.8,50.0 334.6,49.2 335.4,48.1 336.2,47.1 336.9,46.4 337.7,45.6 338.5,44.3 339.3,43.7 340.1,42.5 340.9,41.5 341.7,40.9 342.4,39.5 343.2,38.9 344.0,37.7 344.8,37.0 345.6,35.7 346.4,34.9 347.2,34.3 348.0,33.2 348.7,32.2 349.5,31.2 350.3,30.4 351.1,29.1" fill="none" stroke="#1a10e0" stroke-width="1.9" stroke-linejoin="round" stroke-linecap="round"/>
<text x="338.5" y="24.0" font-size="6.1" text-anchor="start" fill="#1a10e0" font-weight="bold">+5 µM ML204</text>
<text x="354.0" y="40.9" font-size="7.2" text-anchor="start" fill="#e0101a">100 nM EA</text>
<text x="354.0" y="65.6" font-size="7.3" text-anchor="start" fill="#000">cont</text>
<text x="220.2" y="175.6" font-size="17" text-anchor="start" fill="#111">d</text>
<line x1="293.40" y1="157.10" x2="293.40" y2="275.70" stroke="#222" stroke-width="1.1"/>
<line x1="291.00" y1="157.95" x2="293.40" y2="157.95" stroke="#222" stroke-width="0.9"/>
<text x="290.2" y="160.5" font-size="7" text-anchor="end" fill="#000">1500</text>
<line x1="291.00" y1="174.70" x2="293.40" y2="174.70" stroke="#222" stroke-width="0.9"/>
<text x="290.2" y="177.2" font-size="7" text-anchor="end" fill="#000">1200</text>
<line x1="291.00" y1="191.45" x2="293.40" y2="191.45" stroke="#222" stroke-width="0.9"/>
<text x="290.2" y="194.0" font-size="7" text-anchor="end" fill="#000">900</text>
<line x1="291.00" y1="208.20" x2="293.40" y2="208.20" stroke="#222" stroke-width="0.9"/>
<text x="290.2" y="210.7" font-size="7" text-anchor="end" fill="#000">600</text>
<line x1="291.00" y1="224.95" x2="293.40" y2="224.95" stroke="#222" stroke-width="0.9"/>
<text x="290.2" y="227.5" font-size="7" text-anchor="end" fill="#000">300</text>
<line x1="291.00" y1="258.45" x2="293.40" y2="258.45" stroke="#222" stroke-width="0.9"/>
<text x="290.2" y="261.0" font-size="7" text-anchor="end" fill="#000">-300</text>
<line x1="291.00" y1="275.20" x2="293.40" y2="275.20" stroke="#222" stroke-width="0.9"/>
<text x="290.2" y="277.7" font-size="7" text-anchor="end" fill="#000">-600</text>
<line x1="292.10" y1="166.32" x2="293.40" y2="166.32" stroke="#222" stroke-width="0.7"/>
<line x1="292.10" y1="183.07" x2="293.40" y2="183.07" stroke="#222" stroke-width="0.7"/>
<line x1="292.10" y1="199.82" x2="293.40" y2="199.82" stroke="#222" stroke-width="0.7"/>
<line x1="292.10" y1="216.57" x2="293.40" y2="216.57" stroke="#222" stroke-width="0.7"/>
<line x1="292.10" y1="233.32" x2="293.40" y2="233.32" stroke="#222" stroke-width="0.7"/>
<line x1="292.10" y1="250.07" x2="293.40" y2="250.07" stroke="#222" stroke-width="0.7"/>
<line x1="292.10" y1="266.82" x2="293.40" y2="266.82" stroke="#222" stroke-width="0.7"/>
<line x1="214.40" y1="241.70" x2="372.40" y2="241.70" stroke="#222" stroke-width="1.1"/>
<line x1="230.20" y1="241.70" x2="230.20" y2="244.00" stroke="#222" stroke-width="0.9"/>
<text x="230.2" y="251.9" font-size="7" text-anchor="middle" fill="#000">-100</text>
<line x1="261.80" y1="241.70" x2="261.80" y2="244.00" stroke="#222" stroke-width="0.9"/>
<text x="261.8" y="251.9" font-size="7" text-anchor="middle" fill="#000">-50</text>
<text x="294.0" y="251.9" font-size="7" text-anchor="middle" fill="#000">0</text>
<line x1="325.00" y1="241.70" x2="325.00" y2="244.00" stroke="#222" stroke-width="0.9"/>
<text x="325.0" y="251.9" font-size="7" text-anchor="middle" fill="#000">50</text>
<line x1="356.60" y1="241.70" x2="356.60" y2="244.00" stroke="#222" stroke-width="0.9"/>
<text x="356.6" y="251.9" font-size="7" text-anchor="middle" fill="#000">100</text>
<line x1="214.40" y1="241.70" x2="214.40" y2="243.00" stroke="#222" stroke-width="0.8"/>
<line x1="246.00" y1="241.70" x2="246.00" y2="243.00" stroke="#222" stroke-width="0.8"/>
<line x1="277.60" y1="241.70" x2="277.60" y2="243.00" stroke="#222" stroke-width="0.8"/>
<line x1="309.20" y1="241.70" x2="309.20" y2="243.00" stroke="#222" stroke-width="0.8"/>
<line x1="340.80" y1="241.70" x2="340.80" y2="243.00" stroke="#222" stroke-width="0.8"/>
<line x1="372.40" y1="241.70" x2="372.40" y2="243.00" stroke="#222" stroke-width="0.8"/>
<text x="295.6" y="161.5" font-size="10" text-anchor="start" fill="#000">pA</text>
<text x="367.9" y="255.0" font-size="10.2" text-anchor="start" fill="#000">mV</text>
<polyline points="223.4,242.5 224.3,242.6 225.2,242.5 226.2,242.4 227.1,242.5 228.0,242.5 228.9,242.4 229.8,242.6 230.7,242.5 231.7,242.5 232.6,242.3 233.5,242.2 234.4,242.1 235.3,242.2 236.3,242.0 237.2,242.1 238.1,242.2 239.0,242.3 239.9,242.2 240.9,242.0 241.8,242.1 242.7,241.9 243.6,242.1 244.5,241.9 245.4,242.0 246.4,242.2 247.3,242.0 248.2,242.1 249.1,241.8 250.0,241.7 251.0,241.9 251.9,241.9 252.8,241.6 253.7,241.7 254.6,241.5 255.6,241.6 256.5,241.7 257.4,241.5 258.3,241.5 259.2,241.3 260.1,241.5 261.1,241.5 262.0,241.5 262.9,241.4 263.8,241.2 264.7,241.5 265.7,241.3 266.6,241.3 267.5,241.3 268.4,241.0 269.3,241.2 270.3,241.2 271.2,241.2 272.1,241.3 273.0,241.2 273.9,240.9 274.8,241.0 275.8,241.1 276.7,241.0 277.6,240.8 278.5,240.8 279.4,241.0 280.4,240.9 281.3,240.9 282.2,240.6 283.1,241.0 284.0,240.5 285.0,240.7 285.9,240.9 286.8,240.6 287.7,240.6 288.6,240.4 289.5,240.7 290.5,240.4 291.4,240.5 292.3,240.4 293.2,240.3 294.1,240.4 295.1,240.2 296.0,240.2 296.9,240.2 297.8,240.1 298.7,240.1 299.7,240.1 300.6,239.9 301.5,239.7 302.4,239.6 303.3,239.5 304.2,239.5 305.2,239.3 306.1,239.2 307.0,239.0 307.9,238.8 308.8,238.8 309.8,238.4 310.7,238.4 311.6,238.4 312.5,238.0 313.4,238.0 314.4,237.7 315.3,237.6 316.2,237.3 317.1,237.3 318.0,237.1 318.9,237.0 319.9,237.0 320.8,236.7 321.7,236.6 322.6,236.3 323.5,236.1 324.5,235.9 325.4,235.7 326.3,235.7 327.2,235.7 328.1,235.4 329.1,235.2 330.0,235.2 330.9,234.9 331.8,234.7 332.7,234.5 333.6,234.3 334.6,234.3 335.5,234.3 336.4,233.9 337.3,233.7 338.2,233.5 339.2,233.4 340.1,233.0 341.0,233.0 341.9,232.8 342.8,232.5 343.8,232.3 344.7,231.9 345.6,231.6 346.5,231.6 347.4,231.3 348.3,230.7 349.3,230.6 350.2,230.3 351.1,230.1" fill="none" stroke="#0a0a0a" stroke-width="2.0" stroke-linejoin="round" stroke-linecap="round"/>
<polyline points="223.4,250.3 224.2,250.2 224.9,250.5 225.7,250.6 226.4,250.7 227.2,250.4 228.0,250.2 228.7,250.9 229.5,250.9 230.2,251.5 231.0,251.8 231.7,251.8 232.5,251.8 233.3,252.1 234.0,252.5 234.8,252.2 235.5,252.8 236.3,252.9 237.1,253.0 237.8,253.5 238.6,253.0 239.3,253.6 240.1,253.2 240.8,253.4 241.6,253.4 242.4,254.0 243.1,253.7 243.9,254.1 244.6,253.9 245.4,254.6 246.2,254.9 246.9,254.5 247.7,255.0 248.4,254.8 249.2,255.3 250.0,254.8 250.7,254.4 251.5,255.4 252.2,255.0 253.0,254.8 253.7,255.0 254.5,254.8 255.3,255.2 256.0,255.0 256.8,255.8 257.5,255.6 258.3,255.0 259.1,255.1 259.8,255.4 260.6,255.0 261.3,255.6 262.1,255.6 262.8,255.4 263.6,255.4 264.4,255.5 265.1,255.7 265.9,255.5 266.6,254.9 267.4,255.0 268.2,254.3 268.9,254.4 269.7,253.8 270.4,254.1 271.2,253.3 271.9,253.1 272.7,253.0 273.5,252.9 274.2,251.9 275.0,251.8 275.7,251.7 276.5,251.3 277.3,250.7 278.0,250.6 278.8,250.1 279.5,250.3 280.3,249.6 281.1,248.7 281.8,248.1 282.6,248.4 283.3,248.3 284.1,247.6 284.8,247.4 285.6,246.7 286.4,246.0 287.1,246.2 287.9,245.7 288.6,245.4 289.4,244.5 290.2,244.5 290.9,243.9 291.7,243.9 292.4,243.1 293.2,242.7 293.9,242.4 294.7,242.5 295.5,241.7 296.2,241.0 297.0,240.5 297.7,240.0 298.5,240.2 299.3,238.7 300.0,238.4 300.8,238.2 301.5,237.7 302.3,236.8 303.1,236.5 303.8,235.9 304.6,235.5 305.3,234.8 306.1,234.7 306.8,233.9 307.6,233.8 308.4,232.6 309.1,232.8 309.9,231.8 310.6,231.3 311.4,231.5 312.2,230.8 312.9,230.8 313.7,230.0 314.4,230.4 315.2,229.7 315.9,229.0 316.7,229.1 317.5,229.0 318.2,228.3 319.0,228.4 319.7,228.7 320.5,228.1 321.3,227.7 322.0,227.3 322.8,227.4 323.5,226.6 324.3,226.0 325.0,226.4 325.8,226.0 326.6,226.5 327.3,225.8 328.1,225.1 328.8,224.8 329.6,224.9 330.4,224.3 331.1,224.1 331.9,224.0 332.6,223.8 333.4,223.5 334.2,223.3 334.9,223.4 335.7,223.3 336.4,222.1 337.2,223.1 337.9,222.2 338.7,222.3 339.5,221.5 340.2,221.6 341.0,221.3 341.7,221.1 342.5,221.1 343.3,220.9 344.0,220.3 344.8,220.3 345.5,220.4 346.3,220.3 347.0,219.8 347.8,219.7 348.6,219.6 349.3,219.2 350.1,219.1 350.8,219.8 351.6,219.1" fill="none" stroke="#f010f0" stroke-width="2.0" stroke-linejoin="round" stroke-linecap="round"/>
<polyline points="223.4,256.6 224.2,256.7 224.9,257.2 225.7,257.4 226.4,257.3 227.2,257.6 228.0,257.6 228.7,258.2 229.5,258.3 230.2,258.2 231.0,258.7 231.7,258.8 232.5,259.0 233.3,259.2 234.0,259.3 234.8,259.5 235.5,259.9 236.3,260.0 237.1,260.1 237.8,260.7 238.6,260.6 239.3,260.8 240.1,261.0 240.8,261.4 241.6,261.7 242.4,261.8 243.1,262.1 243.9,261.9 244.6,262.3 245.4,262.5 246.2,262.8 246.9,263.1 247.7,262.9 248.4,263.9 249.2,263.5 250.0,263.9 250.7,264.2 251.5,264.5 252.2,264.6 253.0,264.3 253.7,264.7 254.5,265.1 255.3,264.9 256.0,264.8 256.8,264.6 257.5,265.0 258.3,264.8 259.1,264.5 259.8,264.4 260.6,264.3 261.3,264.0 262.1,263.9 262.8,263.9 263.6,263.7 264.4,263.6 265.1,263.2 265.9,262.9 266.6,262.8 267.4,262.3 268.2,262.0 268.9,262.0 269.7,261.5 270.4,261.2 271.2,260.9 271.9,260.2 272.7,260.1 273.5,259.6 274.2,259.1 275.0,258.7 275.7,258.0 276.5,257.2 277.3,257.0 278.0,256.3 278.8,255.9 279.5,255.2 280.3,254.5 281.1,254.0 281.8,253.5 282.6,252.8 283.3,252.1 284.1,251.4 284.8,250.6 285.6,249.9 286.4,249.3 287.1,248.5 287.9,247.8 288.6,246.8 289.4,246.0 290.2,245.2 290.9,244.8 291.7,244.5 292.4,243.9 293.2,243.0 293.9,242.4 294.7,242.3 295.5,241.7 296.2,240.9 297.0,240.6 297.7,239.8 298.5,239.3 299.3,238.4 300.0,237.6 300.8,236.7 301.5,235.7 302.3,234.9 303.1,234.0 303.8,233.3 304.6,232.2 305.3,231.2 306.1,230.7 306.8,229.9 307.6,229.0 308.4,228.0 309.1,226.7 309.9,225.9 310.6,225.0 311.4,224.2 312.2,222.9 312.9,222.3 313.7,221.4 314.4,220.3 315.2,219.5 315.9,218.7 316.7,217.6 317.5,216.8 318.2,215.9 319.0,214.9 319.7,214.0 320.5,212.9 321.3,212.3 322.0,211.1 322.8,210.2 323.5,209.5 324.3,208.4 325.0,207.6 325.8,206.8 326.6,205.7 327.3,204.8 328.1,203.9 328.8,202.9 329.6,201.6 330.4,200.6 331.1,200.0 331.9,198.9 332.6,197.5 333.4,196.6 334.2,195.7 334.9,194.6 335.7,193.8 336.4,192.7 337.2,191.7 337.9,190.5 338.7,189.7 339.5,188.9 340.2,187.4 341.0,186.7 341.7,185.5 342.5,184.4 343.3,183.2 344.0,181.9 344.8,180.8 345.5,179.9 346.3,178.8 347.0,177.6 347.8,176.4 348.6,175.2 349.3,173.8 350.1,172.4 350.8,171.4 351.6,170.2" fill="none" stroke="#e0101a" stroke-width="1.8" stroke-linejoin="round" stroke-linecap="round"/>
<text x="335.7" y="167.4" font-size="7.3" text-anchor="start" fill="#e0101a">100 nM</text>
<text x="335.7" y="176.6" font-size="7.1" text-anchor="start" fill="#e0101a">EA</text>
<text x="355.7" y="216.9" font-size="7.2" text-anchor="start" fill="#f010f0" font-weight="bold">+50 µM</text>
<text x="355.7" y="225.9" font-size="7.2" text-anchor="start" fill="#f010f0" font-weight="bold">ML204</text>
<text x="353.3" y="238.2" font-size="8.6" text-anchor="start" fill="#000">cont</text>
<text x="221.4" y="318.9" font-size="17" text-anchor="start" fill="#111">f</text>
<line x1="294.40" y1="326.90" x2="294.40" y2="447.00" stroke="#222" stroke-width="1.1"/>
<line x1="292.00" y1="327.50" x2="294.40" y2="327.50" stroke="#222" stroke-width="0.9"/>
<text x="291.2" y="330.1" font-size="7.1" text-anchor="end" fill="#000">500</text>
<line x1="292.00" y1="345.80" x2="294.40" y2="345.80" stroke="#222" stroke-width="0.9"/>
<text x="291.2" y="348.4" font-size="7.1" text-anchor="end" fill="#000">400</text>
<line x1="292.00" y1="364.10" x2="294.40" y2="364.10" stroke="#222" stroke-width="0.9"/>
<text x="291.2" y="366.7" font-size="7.1" text-anchor="end" fill="#000">300</text>
<line x1="292.00" y1="382.40" x2="294.40" y2="382.40" stroke="#222" stroke-width="0.9"/>
<text x="291.2" y="385.0" font-size="7.1" text-anchor="end" fill="#000">200</text>
<line x1="292.00" y1="400.70" x2="294.40" y2="400.70" stroke="#222" stroke-width="0.9"/>
<text x="291.2" y="403.3" font-size="7.1" text-anchor="end" fill="#000">100</text>
<line x1="292.00" y1="437.30" x2="294.40" y2="437.30" stroke="#222" stroke-width="0.9"/>
<text x="291.2" y="439.9" font-size="7.1" text-anchor="end" fill="#000">-100</text>
<line x1="293.10" y1="336.65" x2="294.40" y2="336.65" stroke="#222" stroke-width="0.7"/>
<line x1="293.10" y1="354.95" x2="294.40" y2="354.95" stroke="#222" stroke-width="0.7"/>
<line x1="293.10" y1="373.25" x2="294.40" y2="373.25" stroke="#222" stroke-width="0.7"/>
<line x1="293.10" y1="391.55" x2="294.40" y2="391.55" stroke="#222" stroke-width="0.7"/>
<line x1="293.10" y1="409.85" x2="294.40" y2="409.85" stroke="#222" stroke-width="0.7"/>
<line x1="293.10" y1="428.15" x2="294.40" y2="428.15" stroke="#222" stroke-width="0.7"/>
<line x1="293.10" y1="446.45" x2="294.40" y2="446.45" stroke="#222" stroke-width="0.7"/>
<line x1="213.65" y1="419.00" x2="375.15" y2="419.00" stroke="#222" stroke-width="1.1"/>
<line x1="229.80" y1="419.00" x2="229.80" y2="421.30" stroke="#222" stroke-width="0.9"/>
<text x="229.8" y="428.7" font-size="7" text-anchor="middle" fill="#000">-100</text>
<line x1="262.10" y1="419.00" x2="262.10" y2="421.30" stroke="#222" stroke-width="0.9"/>
<text x="262.1" y="428.7" font-size="7" text-anchor="middle" fill="#000">-50</text>
<text x="295.0" y="428.7" font-size="7" text-anchor="middle" fill="#000">0</text>
<line x1="326.70" y1="419.00" x2="326.70" y2="421.30" stroke="#222" stroke-width="0.9"/>
<text x="326.7" y="428.7" font-size="7" text-anchor="middle" fill="#000">50</text>
<line x1="359.00" y1="419.00" x2="359.00" y2="421.30" stroke="#222" stroke-width="0.9"/>
<text x="359.0" y="428.7" font-size="7" text-anchor="middle" fill="#000">100</text>
<line x1="213.65" y1="419.00" x2="213.65" y2="420.30" stroke="#222" stroke-width="0.8"/>
<line x1="245.95" y1="419.00" x2="245.95" y2="420.30" stroke="#222" stroke-width="0.8"/>
<line x1="278.25" y1="419.00" x2="278.25" y2="420.30" stroke="#222" stroke-width="0.8"/>
<line x1="310.55" y1="419.00" x2="310.55" y2="420.30" stroke="#222" stroke-width="0.8"/>
<line x1="342.85" y1="419.00" x2="342.85" y2="420.30" stroke="#222" stroke-width="0.8"/>
<line x1="375.15" y1="419.00" x2="375.15" y2="420.30" stroke="#222" stroke-width="0.8"/>
<text x="297.0" y="331.7" font-size="9.8" text-anchor="start" fill="#000">pA</text>
<text x="367.9" y="416.4" font-size="10" text-anchor="start" fill="#000">mV</text>
<polyline points="224.8,423.6 225.1,422.6 225.4,423.2 225.7,422.6 226.0,423.4 226.3,422.7 226.6,423.2 226.9,423.4 227.2,423.3 227.5,423.9 227.8,422.5 228.1,421.9 228.4,423.6 228.7,423.8 229.0,423.8 229.3,423.1 229.6,423.2 229.9,422.9 230.2,422.1 230.5,422.5 230.9,423.0 231.2,422.4 231.5,423.7 231.8,421.8 232.1,422.4 232.4,423.2 232.7,422.2 233.0,421.9 233.3,421.7 233.6,422.0 233.9,423.2 234.2,422.6 234.5,422.6 234.8,422.0 235.1,422.7 235.4,422.3 235.7,421.7 236.0,421.9 236.3,422.2 236.6,422.7 236.9,422.0 237.2,422.3 237.5,423.1 237.8,421.5 238.1,421.2 238.4,422.4 238.7,422.0 239.0,421.7 239.3,421.9 239.6,421.5 239.9,421.9 240.2,421.4 240.5,422.0 240.8,420.9 241.1,421.1 241.4,421.5 241.7,421.2 242.0,421.8 242.4,421.3 242.7,421.0 243.0,421.4 243.3,421.0 243.6,420.4 243.9,420.6 244.2,420.7 244.5,420.9 244.8,421.1 245.1,421.6 245.4,421.3 245.7,422.0 246.0,421.7 246.3,420.8 246.6,421.8 246.9,421.5 247.2,420.6 247.5,421.0 247.8,421.4 248.1,420.9 248.4,421.3 248.7,420.9 249.0,421.0 249.3,420.4 249.6,420.8 249.9,420.3 250.2,420.9 250.5,419.6 250.8,420.6 251.1,421.1 251.4,420.7 251.7,420.3 252.0,420.6 252.3,419.8 252.6,419.8 252.9,420.0 253.2,420.1 253.5,420.7 253.9,419.6 254.2,420.7 254.5,419.2 254.8,419.6 255.1,420.0 255.4,420.6 255.7,419.6 256.0,418.7 256.3,420.1 256.6,419.8 256.9,419.2 257.2,419.2 257.5,419.3 257.8,419.7 258.1,420.0 258.4,418.8 258.7,420.8 259.0,419.5 259.3,419.3 259.6,419.8 259.9,419.5 260.2,420.6 260.5,419.9 260.8,419.1 261.1,419.0 261.4,418.9 261.7,418.9 262.0,419.4 262.3,418.7 262.6,419.9 262.9,418.9 263.2,418.8 263.5,419.3 263.8,417.7 264.1,418.2 264.4,419.0 264.7,418.6 265.0,418.6 265.4,418.7 265.7,418.1 266.0,418.3 266.3,417.6 266.6,417.2 266.9,418.9 267.2,417.6 267.5,417.7 267.8,418.8 268.1,418.6 268.4,417.6 268.7,417.6 269.0,417.7 269.3,417.2 269.6,418.0 269.9,417.7 270.2,417.6 270.5,417.9 270.8,417.8 271.1,418.3 271.4,418.1 271.7,416.3 272.0,417.6 272.3,416.5 272.6,416.3 272.9,417.3 273.2,416.5 273.5,416.7 273.8,417.3 274.1,416.3 274.4,416.2 274.7,416.7 275.0,417.1 275.3,416.7 275.6,415.6 275.9,416.0 276.2,416.1 276.5,417.1 276.9,416.5 277.2,416.4 277.5,416.5 277.8,415.7 278.1,416.0 278.4,416.0 278.7,415.2 279.0,415.6 279.3,415.8 279.6,415.0 279.9,415.7 280.2,415.6 280.5,415.7 280.8,414.8 281.1,415.1 281.4,415.6 281.7,415.3 282.0,414.5 282.3,414.9 282.6,415.3 282.9,414.6 283.2,414.7 283.5,415.5 283.8,414.4 284.1,414.3 284.4,413.9 284.7,413.9 285.0,414.6 285.3,413.9 285.6,413.5 285.9,413.5 286.2,413.7 286.5,413.9 286.8,413.3 287.1,413.7 287.4,413.2 287.7,413.4 288.0,413.4 288.4,413.3 288.7,412.9 289.0,412.9 289.3,413.0 289.6,412.3 289.9,412.7 290.2,412.7 290.5,412.7 290.8,412.3 291.1,412.2 291.4,412.2 291.7,411.8 292.0,411.9 292.3,411.9 292.6,411.8 292.9,411.3 293.2,411.4 293.5,410.8 293.8,411.6 294.1,411.1 294.4,411.2 294.7,410.8 295.0,410.9 295.3,411.0 295.6,411.0 295.9,410.3 296.2,410.8 296.5,410.4 296.8,410.2 297.1,410.4 297.4,410.1 297.7,410.0 298.0,409.8 298.3,410.0 298.6,409.8 298.9,409.7 299.2,409.4 299.5,409.4 299.9,409.5 300.2,409.6 300.5,409.3 300.8,409.5 301.1,409.1 301.4,408.8 301.7,409.0 302.0,408.6 302.3,408.8 302.6,408.8 302.9,408.5 303.2,408.4 303.5,408.9 303.8,408.3 304.1,408.3 304.4,408.3 304.7,408.0 305.0,408.0 305.3,408.0 305.6,407.3 305.9,408.0 306.2,407.4 306.5,407.4 306.8,407.6 307.1,407.4 307.4,407.1 307.7,407.3 308.0,406.9 308.3,406.9 308.6,406.7 308.9,406.7 309.2,406.9 309.5,406.7 309.8,406.7 310.1,406.7 310.4,406.4 310.7,406.1 311.0,406.1 311.4,406.4 311.7,405.9 312.0,405.9 312.3,405.7 312.6,405.6 312.9,405.5 313.2,405.3 313.5,405.1 313.8,404.8 314.1,404.7 314.4,404.8 314.7,404.7 315.0,404.6 315.3,404.2 315.6,403.9 315.9,404.0 316.2,403.9 316.5,403.3 316.8,403.6 317.1,403.4 317.4,403.4 317.7,402.7 318.0,402.5 318.3,402.8 318.6,402.1 318.9,402.2 319.2,401.9 319.5,401.8 319.8,401.4 320.1,401.6 320.4,401.6 320.7,401.3 321.0,401.2 321.3,400.8 321.6,401.0 321.9,400.6 322.2,400.5 322.5,399.8 322.9,400.0 323.2,399.5 323.5,399.6 323.8,399.4 324.1,399.0 324.4,399.0 324.7,399.1 325.0,398.7 325.3,398.6 325.6,398.1 325.9,397.9 326.2,397.7 326.5,397.7 326.8,397.7 327.1,397.4 327.4,397.1 327.7,396.7 328.0,396.9 328.3,396.5 328.6,396.0 328.9,395.9 329.2,396.0 329.5,395.7 329.8,396.0 330.1,395.5 330.4,395.1 330.7,395.1 331.0,395.3 331.3,394.6 331.6,394.8 331.9,394.5 332.2,394.5 332.5,394.1 332.8,393.8 333.1,393.8 333.4,393.5 333.7,393.5 334.0,393.0 334.4,393.2 334.7,392.6 335.0,392.5 335.3,392.1 335.6,392.0 335.9,391.8 336.2,391.6 336.5,391.5 336.8,391.0 337.1,390.7 337.4,390.9 337.7,390.4 338.0,390.1 338.3,390.2 338.6,389.9 338.9,389.0 339.2,389.2 339.5,389.2 339.8,388.9 340.1,388.4 340.4,388.6 340.7,387.9 341.0,387.7 341.3,387.5 341.6,387.2 341.9,387.1 342.2,386.9 342.5,386.4 342.8,386.4 343.1,385.7 343.4,385.5 343.7,385.6 344.0,385.0 344.3,384.9 344.6,384.3 344.9,384.0 345.2,383.7 345.5,383.4 345.9,383.0 346.2,382.7 346.5,382.5 346.8,382.2 347.1,381.6 347.4,381.4 347.7,381.0 348.0,380.2 348.3,379.7 348.6,379.9 348.9,379.5 349.2,378.8 349.5,378.4 349.8,377.6 350.1,377.1 350.4,376.9 350.7,376.1 351.0,376.0 351.3,375.2 351.6,374.9" fill="none" stroke="#0a0a0a" stroke-width="2.2" stroke-linejoin="round" stroke-linecap="round"/>
<polyline points="224.8,435.1 225.1,432.7 225.4,434.2 225.7,435.3 225.9,435.0 226.2,432.8 226.5,435.1 226.8,434.9 227.1,434.4 227.4,433.9 227.6,434.3 227.9,434.1 228.2,435.5 228.5,435.0 228.8,435.6 229.1,435.3 229.3,433.5 229.6,434.8 229.9,436.7 230.2,433.7 230.5,435.0 230.8,434.1 231.0,434.0 231.3,435.0 231.6,435.7 231.9,435.5 232.2,435.3 232.5,435.7 232.8,433.4 233.0,435.6 233.3,435.2 233.6,434.7 233.9,434.9 234.2,434.1 234.5,435.9 234.7,434.2 235.0,433.5 235.3,434.9 235.6,434.3 235.9,434.8 236.2,436.2 236.4,434.7 236.7,435.0 237.0,436.9 237.3,433.6 237.6,435.2 237.9,435.9 238.1,436.2 238.4,436.8 238.7,434.2 239.0,435.4 239.3,434.7 239.6,434.4 239.9,434.1 240.1,433.5 240.4,435.1 240.7,435.5 241.0,433.8 241.3,435.4 241.6,434.2 241.8,433.8 242.1,432.4 242.4,435.7 242.7,435.4 243.0,434.4 243.3,434.3 243.5,433.5 243.8,435.1 244.1,434.6 244.4,435.1 244.7,434.8 245.0,433.4 245.2,433.2 245.5,435.0 245.8,433.1 246.1,434.8 246.4,435.4 246.7,433.4 246.9,435.1 247.2,434.6 247.5,435.0 247.8,433.9 248.1,434.5 248.4,434.8 248.7,436.1 248.9,435.1 249.2,434.8 249.5,433.2 249.8,434.6 250.1,433.7 250.4,434.2 250.6,434.5 250.9,435.1 251.2,434.8 251.5,434.4 251.8,434.1 252.1,435.4 252.3,433.3 252.6,434.1 252.9,435.3 253.2,433.9 253.5,434.7 253.8,434.8 254.0,435.7 254.3,434.9 254.6,432.3 254.9,433.8 255.2,434.0 255.5,434.5 255.8,434.0 256.0,435.3 256.3,434.6 256.6,432.4 256.9,432.9 257.2,431.5 257.5,434.9 257.7,433.2 258.0,433.1 258.3,431.7 258.6,432.7 258.9,433.4 259.2,432.6 259.4,432.5 259.7,432.3 260.0,434.6 260.3,432.2 260.6,431.3 260.9,432.1 261.1,432.2 261.4,432.3 261.7,432.1 262.0,431.2 262.3,431.9 262.6,432.4 262.9,430.6 263.1,433.6 263.4,433.3 263.7,430.0 264.0,431.2 264.3,432.3 264.6,432.5 264.8,432.8 265.1,429.4 265.4,429.9 265.7,430.3 266.0,431.2 266.3,429.6 266.5,430.9 266.8,430.8 267.1,430.9 267.4,428.9 267.7,430.2 268.0,429.9 268.2,429.4 268.5,430.8 268.8,429.2 269.1,430.7 269.4,428.7 269.7,430.7 270.0,430.5 270.2,428.1 270.5,429.0 270.8,428.9 271.1,427.6 271.4,429.0 271.7,428.7 271.9,427.3 272.2,428.0 272.5,428.5 272.8,427.5 273.1,426.8 273.4,428.7 273.6,426.3 273.9,427.3 274.2,427.8 274.5,427.3 274.8,425.0 275.1,426.1 275.3,426.1 275.6,425.9 275.9,426.4 276.2,426.1 276.5,425.6 276.8,425.6 277.0,426.0 277.3,426.0 277.6,423.4 277.9,426.3 278.2,424.1 278.5,424.9 278.8,422.9 279.0,423.5 279.3,422.8 279.6,424.3 279.9,423.9 280.2,423.1 280.5,422.8 280.7,423.0 281.0,421.9 281.3,421.9 281.6,421.6 281.9,422.4 282.2,421.7 282.4,420.6 282.7,421.4 283.0,421.3 283.3,421.6 283.6,420.2 283.9,420.6 284.1,421.3 284.4,419.7 284.7,419.4 285.0,419.7 285.3,418.9 285.6,418.9 285.9,418.4 286.1,418.0 286.4,418.7 286.7,417.8 287.0,417.2 287.3,417.3 287.6,417.2 287.8,417.1 288.1,417.2 288.4,417.4 288.7,415.6 289.0,415.8 289.3,414.8 289.5,415.5 289.8,415.4 290.1,414.6 290.4,414.2 290.7,413.9 291.0,413.4 291.2,414.1 291.5,414.4 291.8,412.8 292.1,413.7 292.4,412.7 292.7,411.9 293.0,412.4 293.2,412.2 293.5,411.8 293.8,411.3 294.1,411.7 294.4,410.7 294.7,410.8 294.9,410.5 295.2,409.7 295.5,409.0 295.8,408.8 296.1,409.0 296.4,408.9 296.6,407.9 296.9,408.0 297.2,408.4 297.5,407.1 297.8,407.5 298.1,407.2 298.3,407.0 298.6,406.1 298.9,406.3 299.2,405.5 299.5,405.9 299.8,405.1 300.1,405.1 300.3,404.5 300.6,404.4 300.9,403.7 301.2,403.9 301.5,403.7 301.8,403.2 302.0,403.3 302.3,402.7 302.6,402.6 302.9,402.2 303.2,402.2 303.5,401.3 303.7,401.1 304.0,400.8 304.3,400.8 304.6,400.4 304.9,400.2 305.2,399.8 305.4,399.3 305.7,399.1 306.0,399.0 306.3,398.0 306.6,398.6 306.9,397.8 307.1,397.6 307.4,397.5 307.7,397.0 308.0,396.4 308.3,396.5 308.6,396.6 308.9,396.2 309.1,396.0 309.4,395.2 309.7,395.0 310.0,395.1 310.3,394.9 310.6,394.2 310.8,393.7 311.1,393.2 311.4,393.7 311.7,392.7 312.0,392.9 312.3,392.8 312.5,393.1 312.8,392.0 313.1,391.7 313.4,391.5 313.7,391.3 314.0,391.2 314.2,390.8 314.5,390.1 314.8,389.5 315.1,389.8 315.4,389.3 315.7,389.6 316.0,388.6 316.2,388.7 316.5,388.2 316.8,387.9 317.1,388.3 317.4,387.6 317.7,387.3 317.9,387.2 318.2,386.6 318.5,386.4 318.8,386.1 319.1,386.5 319.4,385.8 319.6,385.7 319.9,385.5 320.2,384.9 320.5,384.7 320.8,384.1 321.1,384.4 321.3,384.1 321.6,383.6 321.9,383.8 322.2,382.8 322.5,383.1 322.8,382.4 323.1,382.2 323.3,382.2 323.6,382.3 323.9,381.4 324.2,381.2 324.5,380.9 324.8,381.5 325.0,380.8 325.3,380.5 325.6,380.7 325.9,379.9 326.2,379.0 326.5,379.2 326.7,378.7 327.0,379.3 327.3,378.1 327.6,378.3 327.9,377.8 328.2,377.5 328.4,377.4 328.7,377.0 329.0,376.6 329.3,376.2 329.6,376.1 329.9,375.7 330.2,375.4 330.4,375.4 330.7,375.0 331.0,374.9 331.3,374.4 331.6,374.6 331.9,373.6 332.1,373.3 332.4,373.5 332.7,372.7 333.0,372.6 333.3,372.5 333.6,371.9 333.8,371.5 334.1,371.5 334.4,371.0 334.7,370.5 335.0,370.0 335.3,369.8 335.5,369.2 335.8,369.0 336.1,368.6 336.4,368.6 336.7,368.4 337.0,367.7 337.2,367.4 337.5,366.8 337.8,366.4 338.1,366.3 338.4,366.2 338.7,365.8 339.0,365.5 339.2,364.9 339.5,363.9 339.8,364.5 340.1,364.2 340.4,363.7 340.7,363.3 340.9,363.0 341.2,363.0 341.5,362.0 341.8,361.9 342.1,361.2 342.4,360.8 342.6,360.1 342.9,359.6 343.2,359.0 343.5,358.9 343.8,358.2 344.1,357.5 344.3,357.1 344.6,356.5 344.9,356.8 345.2,355.8 345.5,355.4 345.8,354.5 346.1,354.1 346.3,354.1 346.6,353.2 346.9,352.8 347.2,352.7 347.5,352.3 347.8,351.4 348.0,350.8 348.3,350.2 348.6,349.5 348.9,349.5 349.2,348.1 349.5,347.9 349.7,346.8 350.0,346.4 350.3,346.3 350.6,345.7 350.9,345.1 351.2,344.3 351.4,343.6 351.7,343.1 352.0,342.5 352.3,342.3" fill="none" stroke="#1a10e0" stroke-width="1.9" stroke-linejoin="round" stroke-linecap="round"/>
<polyline points="224.8,432.4 225.1,431.7 225.4,432.9 225.6,432.5 225.9,431.4 226.2,433.4 226.5,432.7 226.8,431.7 227.1,432.9 227.3,433.0 227.6,434.1 227.9,432.0 228.2,433.4 228.5,432.6 228.8,433.2 229.0,432.5 229.3,432.7 229.6,433.2 229.9,431.8 230.2,431.1 230.5,432.8 230.7,432.5 231.0,432.9 231.3,433.4 231.6,432.7 231.9,433.9 232.2,432.9 232.4,433.0 232.7,433.6 233.0,433.5 233.3,432.9 233.6,433.1 233.9,432.4 234.1,432.5 234.4,433.1 234.7,433.7 235.0,432.7 235.3,433.7 235.6,434.6 235.8,434.8 236.1,433.1 236.4,434.0 236.7,433.6 237.0,433.8 237.3,433.8 237.5,433.6 237.8,433.8 238.1,433.3 238.4,433.0 238.7,433.4 239.0,433.6 239.2,434.2 239.5,433.5 239.8,433.8 240.1,434.4 240.4,432.5 240.7,433.0 240.9,433.7 241.2,433.2 241.5,432.4 241.8,434.0 242.1,433.2 242.4,432.4 242.6,434.8 242.9,432.2 243.2,433.2 243.5,432.7 243.8,433.3 244.1,433.7 244.3,432.6 244.6,433.1 244.9,433.1 245.2,432.4 245.5,434.1 245.8,433.3 246.0,432.9 246.3,432.6 246.6,432.9 246.9,433.2 247.2,432.7 247.5,434.1 247.7,431.0 248.0,431.3 248.3,432.8 248.6,431.5 248.9,432.9 249.2,432.4 249.4,433.4 249.7,433.2 250.0,433.9 250.3,433.5 250.6,433.8 250.9,433.2 251.1,433.6 251.4,433.1 251.7,432.2 252.0,431.6 252.3,431.6 252.6,433.0 252.8,430.6 253.1,432.7 253.4,431.9 253.7,433.0 254.0,432.6 254.3,431.8 254.5,432.4 254.8,430.5 255.1,432.5 255.4,432.6 255.7,430.7 256.0,432.9 256.2,432.0 256.5,432.2 256.8,430.9 257.1,432.5 257.4,432.4 257.7,431.9 257.9,431.1 258.2,432.4 258.5,432.8 258.8,432.1 259.1,432.5 259.4,431.2 259.6,431.7 259.9,431.8 260.2,431.6 260.5,433.7 260.8,431.7 261.1,430.9 261.3,431.9 261.6,430.3 261.9,431.4 262.2,431.7 262.5,430.6 262.8,430.6 263.0,430.1 263.3,430.8 263.6,430.1 263.9,431.9 264.2,431.0 264.5,430.2 264.7,429.1 265.0,431.8 265.3,431.1 265.6,430.4 265.9,430.0 266.2,429.9 266.4,429.3 266.7,431.1 267.0,429.6 267.3,428.2 267.6,428.7 267.9,427.1 268.1,429.6 268.4,429.5 268.7,430.2 269.0,430.4 269.3,428.0 269.6,428.8 269.8,429.1 270.1,428.8 270.4,427.7 270.7,428.6 271.0,428.2 271.3,428.8 271.5,427.5 271.8,427.3 272.1,426.9 272.4,426.9 272.7,426.5 273.0,426.6 273.2,427.1 273.5,426.9 273.8,427.4 274.1,427.1 274.4,426.6 274.7,425.2 274.9,426.2 275.2,426.5 275.5,424.6 275.8,424.6 276.1,424.6 276.4,424.4 276.6,424.7 276.9,424.1 277.2,424.8 277.5,423.6 277.8,424.2 278.1,423.8 278.3,423.3 278.6,424.4 278.9,423.6 279.2,423.7 279.5,423.0 279.8,423.4 280.0,423.2 280.3,422.5 280.6,421.4 280.9,422.7 281.2,422.4 281.5,421.9 281.7,421.8 282.0,421.5 282.3,421.3 282.6,420.5 282.9,420.8 283.2,420.8 283.4,420.1 283.7,419.7 284.0,420.9 284.3,420.1 284.6,419.4 284.9,419.1 285.1,417.8 285.4,418.2 285.7,418.5 286.0,419.1 286.3,417.2 286.6,417.7 286.8,418.6 287.1,417.8 287.4,417.5 287.7,417.6 288.0,416.7 288.3,416.5 288.5,416.6 288.8,416.4 289.1,415.3 289.4,416.1 289.7,414.5 290.0,414.7 290.2,416.0 290.5,414.3 290.8,414.5 291.1,413.6 291.4,413.6 291.7,413.2 291.9,413.0 292.2,413.1 292.5,413.2 292.8,412.7 293.1,412.6 293.4,411.7 293.6,412.0 293.9,411.5 294.2,411.5 294.5,410.6 294.8,410.4 295.1,410.6 295.3,410.1 295.6,409.7 295.9,409.2 296.2,409.1 296.5,409.0 296.8,408.8 297.0,408.2 297.3,408.0 297.6,407.9 297.9,407.2 298.2,407.4 298.5,406.9 298.7,406.6 299.0,405.8 299.3,405.7 299.6,405.6 299.9,405.4 300.2,405.0 300.4,405.0 300.7,404.7 301.0,404.3 301.3,403.7 301.6,404.1 301.9,403.5 302.1,403.4 302.4,402.8 302.7,402.7 303.0,402.5 303.3,402.2 303.6,402.0 303.8,401.5 304.1,401.7 304.4,400.6 304.7,400.6 305.0,400.6 305.3,400.1 305.5,399.7 305.8,399.2 306.1,399.5 306.4,398.6 306.7,398.8 307.0,398.4 307.2,398.3 307.5,398.1 307.8,397.4 308.1,397.1 308.4,396.9 308.7,396.3 308.9,396.5 309.2,396.0 309.5,395.8 309.8,395.3 310.1,395.2 310.4,394.8 310.6,394.6 310.9,394.2 311.2,394.3 311.5,393.7 311.8,393.0 312.1,393.4 312.3,392.9 312.6,392.5 312.9,392.9 313.2,392.1 313.5,391.6 313.8,391.5 314.0,391.4 314.3,391.0 314.6,391.0 314.9,390.7 315.2,390.1 315.5,390.0 315.7,389.8 316.0,389.4 316.3,389.1 316.6,389.1 316.9,388.7 317.2,388.1 317.4,388.0 317.7,387.8 318.0,387.6 318.3,387.2 318.6,387.3 318.9,386.6 319.1,386.3 319.4,386.3 319.7,385.6 320.0,385.6 320.3,385.7 320.6,385.0 320.8,384.9 321.1,385.0 321.4,384.7 321.7,384.3 322.0,384.1 322.3,383.7 322.5,383.6 322.8,383.3 323.1,383.6 323.4,382.9 323.7,382.5 324.0,382.3 324.2,382.1 324.5,381.6 324.8,381.4 325.1,381.6 325.4,380.8 325.7,380.7 325.9,380.8 326.2,380.6 326.5,379.8 326.8,380.1 327.1,379.5 327.4,379.6 327.6,379.1 327.9,378.7 328.2,378.6 328.5,378.3 328.8,377.8 329.1,378.1 329.3,377.4 329.6,377.4 329.9,376.8 330.2,376.3 330.5,376.1 330.8,376.1 331.0,375.9 331.3,375.8 331.6,375.2 331.9,374.8 332.2,374.4 332.5,374.3 332.7,374.0 333.0,373.2 333.3,373.6 333.6,373.2 333.9,373.1 334.2,372.1 334.4,372.0 334.7,371.6 335.0,371.0 335.3,370.8 335.6,370.4 335.9,370.4 336.1,370.0 336.4,369.8 336.7,369.1 337.0,368.6 337.3,368.6 337.6,368.2 337.8,367.9 338.1,367.7 338.4,367.0 338.7,366.9 339.0,366.2 339.3,366.1 339.5,365.9 339.8,365.4 340.1,365.1 340.4,364.4 340.7,364.2 341.0,364.0 341.2,363.4 341.5,363.1 341.8,363.4 342.1,362.6 342.4,362.1 342.7,361.7 342.9,361.8 343.2,360.5 343.5,360.6 343.8,360.4 344.1,359.8 344.4,359.6 344.6,358.9 344.9,358.7 345.2,358.3 345.5,357.8 345.8,357.5 346.1,357.0 346.3,356.8 346.6,356.1 346.9,355.6 347.2,355.2 347.5,354.8 347.8,354.1 348.0,353.6 348.3,353.3 348.6,353.2 348.9,352.6 349.2,352.2 349.5,352.4 349.7,351.6 350.0,350.9 350.3,350.4 350.6,350.3 350.9,349.4 351.2,349.4 351.4,348.8 351.7,348.5 352.0,347.6" fill="none" stroke="#e0101a" stroke-width="1.5" stroke-linejoin="round" stroke-linecap="round"/>
<polyline points="224.8,431.6 225.1,431.5 225.4,429.8 225.6,430.9 225.9,429.3 226.2,429.6 226.5,430.4 226.8,431.3 227.1,429.7 227.3,430.6 227.6,430.3 227.9,429.2 228.2,430.1 228.5,431.4 228.8,430.2 229.0,430.7 229.3,431.0 229.6,429.7 229.9,431.3 230.2,431.5 230.5,431.6 230.7,431.4 231.0,430.0 231.3,429.9 231.6,429.8 231.9,429.7 232.2,429.8 232.4,431.2 232.7,431.6 233.0,429.9 233.3,431.1 233.6,429.4 233.9,430.2 234.1,429.6 234.4,429.1 234.7,430.5 235.0,430.5 235.3,430.1 235.6,430.0 235.8,429.6 236.1,430.3 236.4,429.9 236.7,430.6 237.0,429.4 237.3,430.6 237.5,430.8 237.8,431.4 238.1,431.2 238.4,430.6 238.7,429.9 239.0,428.9 239.2,430.4 239.5,431.5 239.8,431.7 240.1,428.4 240.4,429.8 240.7,430.1 240.9,429.6 241.2,430.6 241.5,430.4 241.8,430.0 242.1,430.4 242.4,429.1 242.6,429.6 242.9,429.7 243.2,431.1 243.5,429.1 243.8,430.2 244.1,431.0 244.3,430.4 244.6,431.1 244.9,429.9 245.2,430.8 245.5,431.1 245.8,432.2 246.0,431.0 246.3,431.5 246.6,430.4 246.9,430.5 247.2,431.7 247.5,430.9 247.7,431.5 248.0,431.0 248.3,432.1 248.6,432.3 248.9,429.7 249.2,431.9 249.4,430.8 249.7,430.8 250.0,430.3 250.3,431.0 250.6,429.5 250.9,429.8 251.1,429.8 251.4,430.6 251.7,431.2 252.0,431.0 252.3,430.7 252.6,429.9 252.8,429.0 253.1,430.7 253.4,430.5 253.7,430.7 254.0,431.5 254.3,430.2 254.5,430.2 254.8,428.4 255.1,430.7 255.4,430.2 255.7,429.6 256.0,430.5 256.2,429.3 256.5,429.7 256.8,431.7 257.1,430.7 257.4,430.8 257.7,430.6 257.9,430.5 258.2,430.1 258.5,431.7 258.8,429.8 259.1,430.4 259.4,429.6 259.6,429.4 259.9,427.7 260.2,428.1 260.5,430.8 260.8,430.8 261.1,429.2 261.3,429.4 261.6,429.9 261.9,428.6 262.2,430.7 262.5,428.4 262.8,428.6 263.0,426.9 263.3,430.2 263.6,429.0 263.9,430.2 264.2,428.0 264.5,429.0 264.7,428.7 265.0,428.7 265.3,430.1 265.6,430.2 265.9,429.4 266.2,427.9 266.4,428.8 266.7,429.1 267.0,428.4 267.3,428.3 267.6,428.1 267.9,426.9 268.1,427.8 268.4,428.8 268.7,426.6 269.0,427.4 269.3,427.9 269.6,426.0 269.8,426.9 270.1,425.6 270.4,426.3 270.7,425.6 271.0,425.9 271.3,426.1 271.5,426.2 271.8,426.1 272.1,424.4 272.4,427.3 272.7,425.8 273.0,425.0 273.2,425.3 273.5,425.8 273.8,424.8 274.1,425.1 274.4,424.9 274.7,425.5 274.9,424.5 275.2,425.2 275.5,425.0 275.8,424.5 276.1,425.4 276.4,424.4 276.6,423.4 276.9,424.3 277.2,424.0 277.5,423.8 277.8,423.8 278.1,425.0 278.3,423.5 278.6,423.5 278.9,422.8 279.2,423.7 279.5,422.6 279.8,422.0 280.0,421.5 280.3,422.4 280.6,422.4 280.9,420.8 281.2,421.1 281.5,421.7 281.7,421.7 282.0,420.2 282.3,420.5 282.6,421.0 282.9,420.0 283.2,419.9 283.4,419.6 283.7,419.0 284.0,419.5 284.3,419.4 284.6,418.3 284.9,418.9 285.1,419.2 285.4,418.5 285.7,418.7 286.0,417.7 286.3,418.5 286.6,417.2 286.8,418.3 287.1,416.9 287.4,416.5 287.7,416.2 288.0,416.2 288.3,416.0 288.5,415.6 288.8,415.6 289.1,415.8 289.4,415.6 289.7,414.8 290.0,415.3 290.2,414.0 290.5,413.8 290.8,413.5 291.1,414.0 291.4,412.8 291.7,412.7 291.9,413.5 292.2,413.4 292.5,413.0 292.8,411.7 293.1,412.0 293.4,412.1 293.6,411.6 293.9,410.7 294.2,410.9 294.5,410.2 294.8,410.1 295.1,411.1 295.3,410.3 295.6,409.4 295.9,409.1 296.2,409.5 296.5,408.9 296.8,409.1 297.0,408.5 297.3,408.4 297.6,408.2 297.9,407.6 298.2,407.2 298.5,407.1 298.7,407.0 299.0,406.9 299.3,406.7 299.6,406.5 299.9,406.4 300.2,405.8 300.4,406.2 300.7,406.1 301.0,405.5 301.3,405.2 301.6,405.2 301.9,404.9 302.1,404.5 302.4,404.2 302.7,403.9 303.0,403.5 303.3,403.8 303.6,403.7 303.8,402.9 304.1,403.0 304.4,402.9 304.7,402.5 305.0,402.2 305.3,402.1 305.5,401.5 305.8,401.8 306.1,401.5 306.4,401.9 306.7,401.4 307.0,400.9 307.2,400.8 307.5,401.0 307.8,400.8 308.1,400.2 308.4,399.9 308.7,399.4 308.9,399.5 309.2,399.3 309.5,398.9 309.8,399.3 310.1,398.2 310.4,398.4 310.6,398.3 310.9,398.1 311.2,398.2 311.5,397.2 311.8,397.1 312.1,397.1 312.3,396.9 312.6,396.5 312.9,396.1 313.2,396.4 313.5,395.6 313.8,395.4 314.0,395.7 314.3,395.5 314.6,395.0 314.9,394.4 315.2,394.1 315.5,393.9 315.7,393.5 316.0,393.5 316.3,393.7 316.6,393.2 316.9,392.7 317.2,392.5 317.4,392.1 317.7,392.5 318.0,391.5 318.3,391.8 318.6,391.2 318.9,391.1 319.1,390.8 319.4,391.2 319.7,390.7 320.0,391.2 320.3,390.1 320.6,389.9 320.8,390.1 321.1,389.9 321.4,389.5 321.7,388.9 322.0,389.5 322.3,389.1 322.5,388.9 322.8,388.5 323.1,388.6 323.4,388.1 323.7,388.1 324.0,387.8 324.2,388.0 324.5,387.4 324.8,387.3 325.1,387.5 325.4,387.1 325.7,386.8 325.9,386.6 326.2,386.8 326.5,386.2 326.8,386.3 327.1,386.5 327.4,386.0 327.6,385.5 327.9,385.3 328.2,385.5 328.5,385.0 328.8,384.7 329.1,384.8 329.3,384.6 329.6,384.9 329.9,384.2 330.2,384.8 330.5,384.1 330.8,384.2 331.0,384.2 331.3,383.9 331.6,383.9 331.9,383.4 332.2,382.9 332.5,383.3 332.7,382.8 333.0,382.9 333.3,383.2 333.6,382.7 333.9,382.5 334.2,382.2 334.4,382.3 334.7,382.2 335.0,381.7 335.3,382.0 335.6,381.5 335.9,381.7 336.1,381.4 336.4,381.7 336.7,381.5 337.0,381.1 337.3,381.0 337.6,381.0 337.8,381.1 338.1,380.8 338.4,380.5 338.7,380.3 339.0,380.5 339.3,379.5 339.5,379.9 339.8,379.4 340.1,379.8 340.4,379.1 340.7,379.1 341.0,378.6 341.2,378.7 341.5,378.7 341.8,378.8 342.1,377.8 342.4,377.8 342.7,378.7 342.9,377.7 343.2,377.3 343.5,377.2 343.8,376.2 344.1,377.0 344.4,376.4 344.6,375.7 344.9,376.1 345.2,375.4 345.5,375.0 345.8,375.1 346.1,374.8 346.3,374.2 346.6,374.0 346.9,373.3 347.2,372.9 347.5,373.1 347.8,372.8 348.0,372.1 348.3,371.7 348.6,371.0 348.9,370.6 349.2,369.9 349.5,370.1 349.7,369.0 350.0,368.7 350.3,368.1 350.6,367.2 350.9,367.4 351.2,366.3 351.4,365.6 351.7,365.2 352.0,364.4" fill="none" stroke="#f010f0" stroke-width="1.8" stroke-linejoin="round" stroke-linecap="round"/>
<text x="334.3" y="337.4" font-size="7.2" text-anchor="start" fill="#1a10e0" font-weight="bold">+5 µM Clm</text>
<text x="355.7" y="351.3" font-size="7.4" text-anchor="start" fill="#e0101a">100 nM EA</text>
<text x="356.7" y="366.1" font-size="7.2" text-anchor="start" fill="#f010f0" font-weight="bold">+50 µM Clm</text>
<text x="356.2" y="377.5" font-size="7.3" text-anchor="start" fill="#000">cont</text>
<text x="410.3" y="193.7" font-size="18" text-anchor="start" fill="#111">g</text>
<line x1="448.30" y1="218.30" x2="448.30" y2="369.80" stroke="#444" stroke-width="0.8"/>
<line x1="446.10" y1="221.40" x2="448.30" y2="221.40" stroke="#444" stroke-width="0.7"/>
<text x="445.1" y="223.7" font-size="6.4" text-anchor="end" fill="#000">1.0</text>
<line x1="447.10" y1="228.99" x2="448.30" y2="228.99" stroke="#444" stroke-width="0.6"/>
<line x1="446.10" y1="236.58" x2="448.30" y2="236.58" stroke="#444" stroke-width="0.7"/>
<text x="445.1" y="238.9" font-size="6.4" text-anchor="end" fill="#000">0.8</text>
<line x1="447.10" y1="244.17" x2="448.30" y2="244.17" stroke="#444" stroke-width="0.6"/>
<line x1="446.10" y1="251.76" x2="448.30" y2="251.76" stroke="#444" stroke-width="0.7"/>
<text x="445.1" y="254.1" font-size="6.4" text-anchor="end" fill="#000">0.6</text>
<line x1="447.10" y1="259.35" x2="448.30" y2="259.35" stroke="#444" stroke-width="0.6"/>
<line x1="446.10" y1="266.94" x2="448.30" y2="266.94" stroke="#444" stroke-width="0.7"/>
<text x="445.1" y="269.2" font-size="6.4" text-anchor="end" fill="#000">0.4</text>
<line x1="447.10" y1="274.53" x2="448.30" y2="274.53" stroke="#444" stroke-width="0.6"/>
<line x1="446.10" y1="282.12" x2="448.30" y2="282.12" stroke="#444" stroke-width="0.7"/>
<text x="445.1" y="284.4" font-size="6.4" text-anchor="end" fill="#000">0.2</text>
<line x1="447.10" y1="289.71" x2="448.30" y2="289.71" stroke="#444" stroke-width="0.6"/>
<line x1="446.10" y1="297.30" x2="448.30" y2="297.30" stroke="#444" stroke-width="0.7"/>
<text x="445.1" y="299.6" font-size="6.4" text-anchor="end" fill="#000">0.0</text>
<line x1="446.10" y1="311.14" x2="448.30" y2="311.14" stroke="#444" stroke-width="0.7"/>
<text x="445.1" y="313.4" font-size="6.4" text-anchor="end" fill="#000">-0.2</text>
<line x1="447.10" y1="304.22" x2="448.30" y2="304.22" stroke="#444" stroke-width="0.6"/>
<line x1="446.10" y1="324.98" x2="448.30" y2="324.98" stroke="#444" stroke-width="0.7"/>
<text x="445.1" y="327.3" font-size="6.4" text-anchor="end" fill="#000">-0.4</text>
<line x1="447.10" y1="318.06" x2="448.30" y2="318.06" stroke="#444" stroke-width="0.6"/>
<line x1="446.10" y1="338.82" x2="448.30" y2="338.82" stroke="#444" stroke-width="0.7"/>
<text x="445.1" y="341.1" font-size="6.4" text-anchor="end" fill="#000">-0.6</text>
<line x1="447.10" y1="331.90" x2="448.30" y2="331.90" stroke="#444" stroke-width="0.6"/>
<line x1="446.10" y1="352.66" x2="448.30" y2="352.66" stroke="#444" stroke-width="0.7"/>
<text x="445.1" y="355.0" font-size="6.4" text-anchor="end" fill="#000">-0.8</text>
<line x1="447.10" y1="345.74" x2="448.30" y2="345.74" stroke="#444" stroke-width="0.6"/>
<line x1="446.10" y1="366.50" x2="448.30" y2="366.50" stroke="#444" stroke-width="0.7"/>
<text x="445.1" y="368.8" font-size="6.4" text-anchor="end" fill="#000">-1.0</text>
<line x1="447.10" y1="359.58" x2="448.30" y2="359.58" stroke="#444" stroke-width="0.6"/>
<line x1="500.60" y1="225.70" x2="500.60" y2="223.10" stroke="#2a2a2a" stroke-width="0.9"/>
<line x1="499.10" y1="223.10" x2="502.10" y2="223.10" stroke="#2a2a2a" stroke-width="0.9"/>
<line x1="500.60" y1="365.40" x2="500.60" y2="367.20" stroke="#2a2a2a" stroke-width="0.9"/>
<line x1="499.10" y1="367.20" x2="502.10" y2="367.20" stroke="#2a2a2a" stroke-width="0.9"/>
<line x1="535.10" y1="272.80" x2="535.10" y2="265.40" stroke="#2a2a2a" stroke-width="0.9"/>
<line x1="533.60" y1="265.40" x2="536.60" y2="265.40" stroke="#2a2a2a" stroke-width="0.9"/>
<line x1="535.10" y1="347.40" x2="535.10" y2="349.20" stroke="#2a2a2a" stroke-width="0.9"/>
<line x1="533.60" y1="349.20" x2="536.60" y2="349.20" stroke="#2a2a2a" stroke-width="0.9"/>
<line x1="638.90" y1="259.10" x2="638.90" y2="253.20" stroke="#2a2a2a" stroke-width="0.9"/>
<line x1="637.40" y1="253.20" x2="640.40" y2="253.20" stroke="#2a2a2a" stroke-width="0.9"/>
<line x1="638.90" y1="346.40" x2="638.90" y2="350.20" stroke="#2a2a2a" stroke-width="0.9"/>
<line x1="637.40" y1="350.20" x2="640.40" y2="350.20" stroke="#2a2a2a" stroke-width="0.9"/>
<rect x="451.9" y="221.4" width="27.7" height="145.4" fill="#fff" stroke="#2a2a2a" stroke-width="0.9"/>
<rect x="486.8" y="225.7" width="27.7" height="139.7" fill="#c3c3c3" stroke="#2a2a2a" stroke-width="0.9"/>
<rect x="521.3" y="272.8" width="27.6" height="74.6" fill="#c3c3c3" stroke="#2a2a2a" stroke-width="0.9"/>
<rect x="555.9" y="221.5" width="27.9" height="145.4" fill="#fff" stroke="#2a2a2a" stroke-width="0.9"/>
<rect x="590.4" y="221.5" width="28.3" height="145.4" fill="#8080ff" stroke="#2a2a2a" stroke-width="0.9"/>
<rect x="625.1" y="259.1" width="27.7" height="87.3" fill="#8080ff" stroke="#2a2a2a" stroke-width="0.9"/>
<line x1="448.30" y1="297.30" x2="656.40" y2="297.30" stroke="#222" stroke-width="0.7"/>
<text x="500.6" y="218.2" font-size="9.8" text-anchor="middle" fill="#000">(4)</text>
<text x="499.1" y="378.0" font-size="9.8" text-anchor="middle" fill="#000">(4)</text>
<text x="535.4" y="261.0" font-size="9.8" text-anchor="middle" fill="#000">(6)</text>
<text x="535.4" y="361.2" font-size="9.8" text-anchor="middle" fill="#000">(6)</text>
<text x="604.6" y="216.8" font-size="9.8" text-anchor="middle" fill="#000">(4)</text>
<text x="605.2" y="377.8" font-size="9.8" text-anchor="middle" fill="#000">(4)</text>
<text x="637.8" y="249.7" font-size="9.8" text-anchor="middle" fill="#000">(5)</text>
<text x="638.4" y="361.3" font-size="9.8" text-anchor="middle" fill="#000">(5)</text>
<text x="535.5" y="256.3" font-size="10.7" text-anchor="middle" fill="#000">**</text>
<text x="535.5" y="246.5" font-size="6.2" text-anchor="middle" fill="#000">##</text>
<text x="535.5" y="374.7" font-size="10.7" text-anchor="middle" fill="#000">**</text>
<text x="535.5" y="377.2" font-size="6.2" text-anchor="middle" fill="#000">##</text>
<text x="638.0" y="243.1" font-size="10.7" text-anchor="middle" fill="#000">**</text>
<text x="638.0" y="233.3" font-size="6.2" text-anchor="middle" fill="#000">##</text>
<text x="638.8" y="374.7" font-size="10.7" text-anchor="middle" fill="#000">**</text>
<text x="638.8" y="375.8" font-size="6.2" text-anchor="middle" fill="#000">##</text>
<text x="654.3" y="222.6" font-size="8.5" text-anchor="start" fill="#000">+80 mV</text>
<text x="655.4" y="370.4" font-size="8.5" text-anchor="start" fill="#000">-80 mV</text>
<text transform="translate(426,290.4) rotate(-90)" font-size="13.1" text-anchor="middle" fill="#1a1a1a">relative amplitude</text>
<text x="409.5" y="384.2" font-size="8" text-anchor="start" fill="#000">100 nM EA</text>
<rect x="452" y="380.8" width="203.4" height="2.4" fill="#fff" stroke="#555" stroke-width="0.6"/>
<polygon points="486.7,393.3 520.5,393.3 520.5,386.2 549.9,386.2 549.9,400.9 486.7,400.9" fill="#c3c3c3"/>
<polygon points="590.2,393.9 623.2,393.9 623.2,387.1 652.8,387.1 652.8,401.3 590.2,401.3" fill="#8080ff"/>
<text x="503.1" y="399.5" font-size="8.3" text-anchor="middle" fill="#000">5</text>
<text x="533.8" y="392.8" font-size="8.3" text-anchor="middle" fill="#000">50</text>
<text x="604.6" y="399.9" font-size="8.3" text-anchor="middle" fill="#000">5</text>
<text x="637.8" y="394.0" font-size="8.3" text-anchor="middle" fill="#000">50</text>
<text x="496.0" y="410.6" font-size="8.1" text-anchor="start" fill="#000">ML204 (µM)</text>
<text x="608.8" y="410.9" font-size="8.2" text-anchor="start" fill="#000">Clm (µM)</text>
</svg>
</body></html>
